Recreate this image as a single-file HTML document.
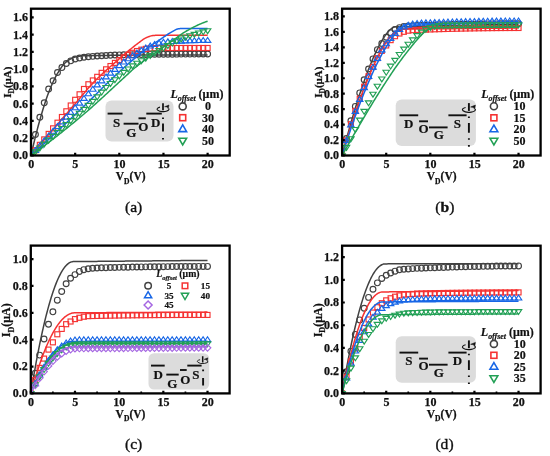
<!DOCTYPE html>
<html><head><meta charset="utf-8"><title>I-V characteristics</title>
<style>html,body{margin:0;padding:0;background:#fff}svg{display:block}.tk{font-family:"Liberation Serif", "DejaVu Serif", serif;font-weight:bold;font-size:12px;fill:#111;stroke:#111;stroke-width:0.25px}.lg{font-family:"Liberation Serif", "DejaVu Serif", serif;font-weight:bold;fill:#111;stroke:#111;stroke-width:0.2px}.cap{font-family:"Liberation Serif", "DejaVu Serif", serif;font-size:15.6px;fill:#111;stroke:#111;stroke-width:0.35px}.in{font-family:"Liberation Serif", "DejaVu Serif", serif;font-weight:bold;fill:#111;stroke:#111;stroke-width:0.2px}</style></head><body>
<svg width="550" height="456" viewBox="0 0 550 456">
<rect width="550" height="456" fill="#fff"/>
<defs>
<clipPath id="ca"><rect x="31" y="8.7" width="198.7" height="146.8"/></clipPath>
<clipPath id="cb"><rect x="342.1" y="8.7" width="198.5" height="146.8"/></clipPath>
<clipPath id="cc"><rect x="30.8" y="245.6" width="198.8" height="147.8"/></clipPath>
<clipPath id="cd"><rect x="342.1" y="245.7" width="198.5" height="147.7"/></clipPath>
</defs>
<rect x="105.5" y="100.5" width="68" height="41" rx="6" fill="#dcdcdc"/>
<path d="M107.6 113.6 H122.5" stroke="#111" stroke-width="1.9" fill="none"/>
<text x="116.7" y="127" text-anchor="middle" font-size="13" class="in">S</text>
<path d="M123.6 123.7 H138.5" stroke="#111" stroke-width="1.9" fill="none"/>
<text x="131.3" y="136.6" text-anchor="middle" font-size="13" class="in">G</text>
<path d="M138.5 118.3 H145.8" stroke="#111" stroke-width="1.9" fill="none"/>
<text x="143.3" y="131.4" text-anchor="middle" font-size="13" class="in">O</text>
<path d="M146.3 113.6 H161.8" stroke="#111" stroke-width="1.9" fill="none"/>
<text x="155.6" y="127" text-anchor="middle" font-size="13" class="in">D</text>
<path d="M163 117.4 V119 M163 123.4 V131.4 M163 138 V139.6" stroke="#111" stroke-width="1.9" fill="none"/>
<g transform="translate(163 109.2) scale(0.92)"><path d="M-3.3 -2.25 A6.5 2.6 0 1 0 6.3 -0.7" fill="none" stroke="#111" stroke-width="1.15"/><path d="M0 -6.6 V1.2" fill="none" stroke="#111" stroke-width="1.9"/><path d="M1.7 -2.7 L6.5 -4.6 L5.7 -0.5 L4.6 -2.3 Z" fill="#111" stroke="#111" stroke-width="0.5" stroke-linejoin="round"/></g>
<rect x="395.7" y="99.4" width="80.2" height="46.6" rx="6" fill="#dcdcdc"/>
<path d="M399.5 115.3 H418.2" stroke="#111" stroke-width="1.9" fill="none"/>
<text x="408.8" y="127.9" text-anchor="middle" font-size="13" class="in">D</text>
<path d="M419.1 121.3 H428" stroke="#111" stroke-width="1.9" fill="none"/>
<text x="423.6" y="132.8" text-anchor="middle" font-size="13" class="in">O</text>
<path d="M429 127.4 H447.6" stroke="#111" stroke-width="1.9" fill="none"/>
<text x="438.8" y="139.3" text-anchor="middle" font-size="13" class="in">G</text>
<path d="M448.4 115.3 H466.6" stroke="#111" stroke-width="1.9" fill="none"/>
<text x="457.4" y="127.9" text-anchor="middle" font-size="13" class="in">S</text>
<path d="M468.9 116.4 V118 M468.9 123 V132.8 M468.9 138.2 V139.8 M468.9 145.1 V146.7" stroke="#111" stroke-width="1.9" fill="none"/>
<g transform="translate(468.9 109.7) scale(1.0)"><path d="M-3.3 -2.25 A6.5 2.6 0 1 0 6.3 -0.7" fill="none" stroke="#111" stroke-width="1.15"/><path d="M0 -6.6 V1.2" fill="none" stroke="#111" stroke-width="1.9"/><path d="M1.7 -2.7 L6.5 -4.6 L5.7 -0.5 L4.6 -2.3 Z" fill="#111" stroke="#111" stroke-width="0.5" stroke-linejoin="round"/></g>
<rect x="148.5" y="353.2" width="60.7" height="36.3" rx="5.5" fill="#dcdcdc"/>
<path d="M151 365.6 H164.7" stroke="#111" stroke-width="1.9" fill="none"/>
<text x="158.3" y="379" text-anchor="middle" font-size="13" class="in">D</text>
<path d="M166.3 374.6 H178.7" stroke="#111" stroke-width="1.9" fill="none"/>
<text x="172.4" y="388.4" text-anchor="middle" font-size="13" class="in">G</text>
<path d="M180 370 H186.7" stroke="#111" stroke-width="1.9" fill="none"/>
<text x="185.2" y="383.6" text-anchor="middle" font-size="13" class="in">O</text>
<path d="M187.3 365.6 H201.6" stroke="#111" stroke-width="1.9" fill="none"/>
<text x="195.9" y="379" text-anchor="middle" font-size="13" class="in">S</text>
<path d="M203.1 369.6 V371.2 M203.1 378 V385.6" stroke="#111" stroke-width="1.9" fill="none"/>
<g transform="translate(202.7 361.5) scale(0.8)"><path d="M-3.3 -2.25 A6.5 2.6 0 1 0 6.3 -0.7" fill="none" stroke="#111" stroke-width="1.15"/><path d="M0 -6.6 V1.2" fill="none" stroke="#111" stroke-width="1.9"/><path d="M1.7 -2.7 L6.5 -4.6 L5.7 -0.5 L4.6 -2.3 Z" fill="#111" stroke="#111" stroke-width="0.5" stroke-linejoin="round"/></g>
<rect x="395.7" y="336.2" width="80.2" height="46.5" rx="6" fill="#dcdcdc"/>
<path d="M399.5 352.6 H418.2" stroke="#111" stroke-width="1.9" fill="none"/>
<text x="408.8" y="365.2" text-anchor="middle" font-size="13" class="in">S</text>
<path d="M419.1 358.6 H428" stroke="#111" stroke-width="1.9" fill="none"/>
<text x="423.6" y="370.1" text-anchor="middle" font-size="13" class="in">O</text>
<path d="M429 364.7 H447.6" stroke="#111" stroke-width="1.9" fill="none"/>
<text x="438.8" y="376.6" text-anchor="middle" font-size="13" class="in">G</text>
<path d="M448.4 352.6 H466.6" stroke="#111" stroke-width="1.9" fill="none"/>
<text x="457.4" y="365.2" text-anchor="middle" font-size="13" class="in">D</text>
<path d="M468.9 353.7 V355.3 M468.9 360.3 V370.1 M468.9 375.5 V377.1 M468.9 382.4 V384" stroke="#111" stroke-width="1.9" fill="none"/>
<g transform="translate(468.9 347) scale(1.0)"><path d="M-3.3 -2.25 A6.5 2.6 0 1 0 6.3 -0.7" fill="none" stroke="#111" stroke-width="1.15"/><path d="M0 -6.6 V1.2" fill="none" stroke="#111" stroke-width="1.9"/><path d="M1.7 -2.7 L6.5 -4.6 L5.7 -0.5 L4.6 -2.3 Z" fill="#111" stroke="#111" stroke-width="0.5" stroke-linejoin="round"/></g>
<g clip-path="url(#ca)">
<circle cx="31" cy="155.5" r="2.9" fill="none" stroke="#424242" stroke-width="1.15"/>
<circle cx="35.42" cy="134.52" r="2.9" fill="none" stroke="#424242" stroke-width="1.15"/>
<circle cx="39.83" cy="117.25" r="2.9" fill="none" stroke="#424242" stroke-width="1.15"/>
<circle cx="44.25" cy="102.82" r="2.9" fill="none" stroke="#424242" stroke-width="1.15"/>
<circle cx="48.66" cy="89.01" r="2.9" fill="none" stroke="#424242" stroke-width="1.15"/>
<circle cx="53.08" cy="80.8" r="2.9" fill="none" stroke="#424242" stroke-width="1.15"/>
<circle cx="57.49" cy="72.51" r="2.9" fill="none" stroke="#424242" stroke-width="1.15"/>
<circle cx="61.91" cy="67.59" r="2.9" fill="none" stroke="#424242" stroke-width="1.15"/>
<circle cx="66.32" cy="63.45" r="2.9" fill="none" stroke="#424242" stroke-width="1.15"/>
<circle cx="70.74" cy="60.86" r="2.9" fill="none" stroke="#424242" stroke-width="1.15"/>
<circle cx="75.16" cy="59.04" r="2.9" fill="none" stroke="#424242" stroke-width="1.15"/>
<circle cx="79.57" cy="57.96" r="2.9" fill="none" stroke="#424242" stroke-width="1.15"/>
<circle cx="83.99" cy="57.23" r="2.9" fill="none" stroke="#424242" stroke-width="1.15"/>
<circle cx="88.4" cy="56.74" r="2.9" fill="none" stroke="#424242" stroke-width="1.15"/>
<circle cx="92.82" cy="56.36" r="2.9" fill="none" stroke="#424242" stroke-width="1.15"/>
<circle cx="97.23" cy="56.04" r="2.9" fill="none" stroke="#424242" stroke-width="1.15"/>
<circle cx="101.65" cy="55.76" r="2.9" fill="none" stroke="#424242" stroke-width="1.15"/>
<circle cx="106.06" cy="55.49" r="2.9" fill="none" stroke="#424242" stroke-width="1.15"/>
<circle cx="110.48" cy="55.24" r="2.9" fill="none" stroke="#424242" stroke-width="1.15"/>
<circle cx="114.9" cy="55.03" r="2.9" fill="none" stroke="#424242" stroke-width="1.15"/>
<circle cx="119.31" cy="54.9" r="2.9" fill="none" stroke="#424242" stroke-width="1.15"/>
<circle cx="123.73" cy="54.82" r="2.9" fill="none" stroke="#424242" stroke-width="1.15"/>
<circle cx="128.14" cy="54.74" r="2.9" fill="none" stroke="#424242" stroke-width="1.15"/>
<circle cx="132.56" cy="54.66" r="2.9" fill="none" stroke="#424242" stroke-width="1.15"/>
<circle cx="136.97" cy="54.59" r="2.9" fill="none" stroke="#424242" stroke-width="1.15"/>
<circle cx="141.39" cy="54.53" r="2.9" fill="none" stroke="#424242" stroke-width="1.15"/>
<circle cx="145.8" cy="54.46" r="2.9" fill="none" stroke="#424242" stroke-width="1.15"/>
<circle cx="150.22" cy="54.41" r="2.9" fill="none" stroke="#424242" stroke-width="1.15"/>
<circle cx="154.64" cy="54.35" r="2.9" fill="none" stroke="#424242" stroke-width="1.15"/>
<circle cx="159.05" cy="54.3" r="2.9" fill="none" stroke="#424242" stroke-width="1.15"/>
<circle cx="163.47" cy="54.26" r="2.9" fill="none" stroke="#424242" stroke-width="1.15"/>
<circle cx="167.88" cy="54.21" r="2.9" fill="none" stroke="#424242" stroke-width="1.15"/>
<circle cx="172.3" cy="54.18" r="2.9" fill="none" stroke="#424242" stroke-width="1.15"/>
<circle cx="176.71" cy="54.14" r="2.9" fill="none" stroke="#424242" stroke-width="1.15"/>
<circle cx="181.13" cy="54.12" r="2.9" fill="none" stroke="#424242" stroke-width="1.15"/>
<circle cx="185.54" cy="54.09" r="2.9" fill="none" stroke="#424242" stroke-width="1.15"/>
<circle cx="189.96" cy="54.07" r="2.9" fill="none" stroke="#424242" stroke-width="1.15"/>
<circle cx="194.38" cy="54.06" r="2.9" fill="none" stroke="#424242" stroke-width="1.15"/>
<circle cx="198.79" cy="54.04" r="2.9" fill="none" stroke="#424242" stroke-width="1.15"/>
<circle cx="203.21" cy="54.04" r="2.9" fill="none" stroke="#424242" stroke-width="1.15"/>
<circle cx="207.62" cy="54.04" r="2.9" fill="none" stroke="#424242" stroke-width="1.15"/>
<path d="M31 155.5 L31.88 151.61 L32.77 147.78 L33.65 144.03 L34.53 140.36 L35.42 136.77 L36.3 133.26 L37.18 129.83 L38.06 126.49 L38.95 123.25 L39.83 120.1 L40.71 117.01 L41.6 113.97 L42.48 110.98 L43.36 108.06 L44.25 105.21 L45.13 102.45 L46.01 99.79 L46.9 97.22 L47.78 94.78 L48.66 92.46 L49.55 90.24 L50.43 88.07 L51.31 85.96 L52.19 83.92 L53.08 81.96 L53.96 80.07 L54.84 78.27 L55.73 76.57 L56.61 74.96 L57.49 73.46 L58.38 72.03 L59.26 70.62 L60.14 69.25 L61.03 67.93 L61.91 66.67 L62.79 65.5 L63.68 64.41 L64.56 63.42 L65.44 62.55 L66.32 61.81 L67.21 61.15 L68.09 60.51 L68.97 59.92 L69.86 59.36 L70.74 58.84 L71.62 58.37 L72.51 57.96 L73.39 57.6 L74.27 57.29 L75.16 57.06 L76.04 56.86 L76.92 56.67 L77.8 56.49 L78.69 56.32 L79.57 56.18 L80.45 56.05 L81.34 55.94 L82.22 55.85 L83.1 55.79 L83.99 55.76 L84.87 55.75 L85.75 55.73 L86.64 55.72 L87.52 55.7 L88.4 55.68 L89.29 55.67 L90.17 55.66 L91.05 55.64 L91.93 55.63 L92.82 55.61 L93.7 55.6 L94.58 55.58 L95.47 55.57 L96.35 55.56 L97.23 55.54 L98.12 55.53 L99 55.52 L99.88 55.5 L100.77 55.49 L101.65 55.48 L102.53 55.47 L103.42 55.46 L104.3 55.44 L105.18 55.43 L106.06 55.42 L106.95 55.41 L107.83 55.4 L108.71 55.39 L109.6 55.38 L110.48 55.36 L111.36 55.35 L112.25 55.34 L113.13 55.33 L114.01 55.32 L114.9 55.31 L115.78 55.3 L116.66 55.29 L117.54 55.28 L118.43 55.27 L119.31 55.27 L120.19 55.26 L121.08 55.25 L121.96 55.24 L122.84 55.23 L123.73 55.22 L124.61 55.21 L125.49 55.2 L126.38 55.2 L127.26 55.19 L128.14 55.18 L129.03 55.17 L129.91 55.17 L130.79 55.16 L131.67 55.15 L132.56 55.14 L133.44 55.14 L134.32 55.13 L135.21 55.12 L136.09 55.12 L136.97 55.11 L137.86 55.1 L138.74 55.1 L139.62 55.09 L140.51 55.08 L141.39 55.08 L142.27 55.07 L143.16 55.07 L144.04 55.06 L144.92 55.06 L145.8 55.05 L146.69 55.05 L147.57 55.04 L148.45 55.04 L149.34 55.03 L150.22 55.03 L151.1 55.02 L151.99 55.02 L152.87 55.01 L153.75 55.01 L154.64 55 L155.52 55 L156.4 55 L157.28 54.99 L158.17 54.99 L159.05 54.98 L159.93 54.98 L160.82 54.98 L161.7 54.97 L162.58 54.97 L163.47 54.97 L164.35 54.96 L165.23 54.96 L166.12 54.96 L167 54.96 L167.88 54.95 L168.77 54.95 L169.65 54.95 L170.53 54.94 L171.41 54.94 L172.3 54.94 L173.18 54.94 L174.06 54.94 L174.95 54.93 L175.83 54.93 L176.71 54.93 L177.6 54.93 L178.48 54.93 L179.36 54.92 L180.25 54.92 L181.13 54.92 L182.01 54.92 L182.9 54.92 L183.78 54.92 L184.66 54.91 L185.54 54.91 L186.43 54.91 L187.31 54.91 L188.19 54.91 L189.08 54.91 L189.96 54.91 L190.84 54.91 L191.73 54.91 L192.61 54.9 L193.49 54.9 L194.38 54.9 L195.26 54.9 L196.14 54.9 L197.02 54.9 L197.91 54.9 L198.79 54.9 L199.67 54.9 L200.56 54.9 L201.44 54.9 L202.32 54.9 L203.21 54.9 L204.09 54.9 L204.97 54.9 L205.86 54.9 L206.74 54.9 L207.62 54.9" fill="none" stroke="#424242" stroke-width="1.5" stroke-linejoin="round"/>
</g>
<g clip-path="url(#ca)">
<rect x="28.5" y="153" width="5" height="5" fill="none" stroke="#f53232" stroke-width="1.15"/>
<rect x="32.92" y="147.7" width="5" height="5" fill="none" stroke="#f53232" stroke-width="1.15"/>
<rect x="37.33" y="142.33" width="5" height="5" fill="none" stroke="#f53232" stroke-width="1.15"/>
<rect x="41.75" y="136.9" width="5" height="5" fill="none" stroke="#f53232" stroke-width="1.15"/>
<rect x="46.16" y="131.41" width="5" height="5" fill="none" stroke="#f53232" stroke-width="1.15"/>
<rect x="50.58" y="125.84" width="5" height="5" fill="none" stroke="#f53232" stroke-width="1.15"/>
<rect x="54.99" y="120.19" width="5" height="5" fill="none" stroke="#f53232" stroke-width="1.15"/>
<rect x="59.41" y="114.5" width="5" height="5" fill="none" stroke="#f53232" stroke-width="1.15"/>
<rect x="63.82" y="108.79" width="5" height="5" fill="none" stroke="#f53232" stroke-width="1.15"/>
<rect x="68.24" y="102.99" width="5" height="5" fill="none" stroke="#f53232" stroke-width="1.15"/>
<rect x="72.66" y="97.3" width="5" height="5" fill="none" stroke="#f53232" stroke-width="1.15"/>
<rect x="77.07" y="91.79" width="5" height="5" fill="none" stroke="#f53232" stroke-width="1.15"/>
<rect x="81.49" y="86.48" width="5" height="5" fill="none" stroke="#f53232" stroke-width="1.15"/>
<rect x="85.9" y="81.76" width="5" height="5" fill="none" stroke="#f53232" stroke-width="1.15"/>
<rect x="90.32" y="77.94" width="5" height="5" fill="none" stroke="#f53232" stroke-width="1.15"/>
<rect x="94.73" y="74.33" width="5" height="5" fill="none" stroke="#f53232" stroke-width="1.15"/>
<rect x="99.15" y="70.36" width="5" height="5" fill="none" stroke="#f53232" stroke-width="1.15"/>
<rect x="103.56" y="66.83" width="5" height="5" fill="none" stroke="#f53232" stroke-width="1.15"/>
<rect x="107.98" y="63.54" width="5" height="5" fill="none" stroke="#f53232" stroke-width="1.15"/>
<rect x="112.4" y="60.4" width="5" height="5" fill="none" stroke="#f53232" stroke-width="1.15"/>
<rect x="116.81" y="57.49" width="5" height="5" fill="none" stroke="#f53232" stroke-width="1.15"/>
<rect x="121.23" y="54.86" width="5" height="5" fill="none" stroke="#f53232" stroke-width="1.15"/>
<rect x="125.64" y="52.49" width="5" height="5" fill="none" stroke="#f53232" stroke-width="1.15"/>
<rect x="130.06" y="50.29" width="5" height="5" fill="none" stroke="#f53232" stroke-width="1.15"/>
<rect x="134.47" y="48.51" width="5" height="5" fill="none" stroke="#f53232" stroke-width="1.15"/>
<rect x="138.89" y="47.2" width="5" height="5" fill="none" stroke="#f53232" stroke-width="1.15"/>
<rect x="143.3" y="46.35" width="5" height="5" fill="none" stroke="#f53232" stroke-width="1.15"/>
<rect x="147.72" y="45.92" width="5" height="5" fill="none" stroke="#f53232" stroke-width="1.15"/>
<rect x="152.14" y="45.61" width="5" height="5" fill="none" stroke="#f53232" stroke-width="1.15"/>
<rect x="156.55" y="45.49" width="5" height="5" fill="none" stroke="#f53232" stroke-width="1.15"/>
<rect x="160.97" y="45.49" width="5" height="5" fill="none" stroke="#f53232" stroke-width="1.15"/>
<rect x="165.38" y="45.49" width="5" height="5" fill="none" stroke="#f53232" stroke-width="1.15"/>
<rect x="169.8" y="45.49" width="5" height="5" fill="none" stroke="#f53232" stroke-width="1.15"/>
<rect x="174.21" y="45.49" width="5" height="5" fill="none" stroke="#f53232" stroke-width="1.15"/>
<rect x="178.63" y="45.49" width="5" height="5" fill="none" stroke="#f53232" stroke-width="1.15"/>
<rect x="183.04" y="45.49" width="5" height="5" fill="none" stroke="#f53232" stroke-width="1.15"/>
<rect x="187.46" y="45.49" width="5" height="5" fill="none" stroke="#f53232" stroke-width="1.15"/>
<rect x="191.88" y="45.49" width="5" height="5" fill="none" stroke="#f53232" stroke-width="1.15"/>
<rect x="196.29" y="45.49" width="5" height="5" fill="none" stroke="#f53232" stroke-width="1.15"/>
<rect x="200.71" y="45.49" width="5" height="5" fill="none" stroke="#f53232" stroke-width="1.15"/>
<rect x="205.12" y="45.49" width="5" height="5" fill="none" stroke="#f53232" stroke-width="1.15"/>
<path d="M31 155.5 L31.88 154.45 L32.77 153.4 L33.65 152.35 L34.53 151.3 L35.42 150.25 L36.3 149.2 L37.18 148.15 L38.06 147.11 L38.95 146.06 L39.83 145.02 L40.71 143.97 L41.6 142.93 L42.48 141.88 L43.36 140.84 L44.25 139.8 L45.13 138.76 L46.01 137.72 L46.9 136.68 L47.78 135.64 L48.66 134.6 L49.55 133.56 L50.43 132.52 L51.31 131.49 L52.19 130.45 L53.08 129.41 L53.96 128.38 L54.84 127.34 L55.73 126.31 L56.61 125.28 L57.49 124.24 L58.38 123.21 L59.26 122.18 L60.14 121.15 L61.03 120.12 L61.91 119.09 L62.79 118.06 L63.68 117.03 L64.56 116 L65.44 114.97 L66.32 113.94 L67.21 112.91 L68.09 111.89 L68.97 110.86 L69.86 109.83 L70.74 108.81 L71.62 107.78 L72.51 106.76 L73.39 105.74 L74.27 104.71 L75.16 103.69 L76.04 102.66 L76.92 101.63 L77.8 100.59 L78.69 99.54 L79.57 98.49 L80.45 97.44 L81.34 96.39 L82.22 95.34 L83.1 94.29 L83.99 93.25 L84.87 92.2 L85.75 91.17 L86.64 90.13 L87.52 89.11 L88.4 88.1 L89.29 87.09 L90.17 86.1 L91.05 85.12 L91.93 84.15 L92.82 83.2 L93.7 82.26 L94.58 81.34 L95.47 80.44 L96.35 79.55 L97.23 78.68 L98.12 77.81 L99 76.96 L99.88 76.11 L100.77 75.27 L101.65 74.44 L102.53 73.62 L103.42 72.81 L104.3 72 L105.18 71.2 L106.06 70.41 L106.95 69.62 L107.83 68.83 L108.71 68.05 L109.6 67.27 L110.48 66.5 L111.36 65.72 L112.25 64.95 L113.13 64.18 L114.01 63.41 L114.9 62.65 L115.78 61.88 L116.66 61.11 L117.54 60.33 L118.43 59.56 L119.31 58.78 L120.19 58.01 L121.08 57.23 L121.96 56.46 L122.84 55.69 L123.73 54.92 L124.61 54.15 L125.49 53.39 L126.38 52.64 L127.26 51.89 L128.14 51.15 L129.03 50.41 L129.91 49.69 L130.79 48.96 L131.67 48.24 L132.56 47.53 L133.44 46.82 L134.32 46.12 L135.21 45.44 L136.09 44.76 L136.97 44.1 L137.86 43.44 L138.74 42.77 L139.62 42.08 L140.51 41.4 L141.39 40.73 L142.27 40.08 L143.16 39.47 L144.04 38.9 L144.92 38.37 L145.8 37.91 L146.69 37.51 L147.57 37.14 L148.45 36.77 L149.34 36.43 L150.22 36.13 L151.1 35.88 L151.99 35.68 L152.87 35.56 L153.75 35.48 L154.64 35.4 L155.52 35.35 L156.4 35.31 L157.28 35.3 L158.17 35.3 L159.05 35.3 L159.93 35.3 L160.82 35.3 L161.7 35.3 L162.58 35.3 L163.47 35.3 L164.35 35.3 L165.23 35.3 L166.12 35.3 L167 35.3 L167.88 35.3 L168.77 35.3 L169.65 35.3 L170.53 35.3 L171.41 35.3 L172.3 35.3 L173.18 35.3 L174.06 35.3 L174.95 35.3 L175.83 35.3 L176.71 35.3 L177.6 35.3 L178.48 35.3 L179.36 35.3 L180.25 35.3 L181.13 35.3 L182.01 35.3 L182.9 35.3 L183.78 35.3 L184.66 35.3 L185.54 35.3 L186.43 35.3 L187.31 35.3 L188.19 35.3 L189.08 35.3 L189.96 35.3 L190.84 35.3 L191.73 35.3 L192.61 35.3 L193.49 35.3 L194.38 35.3 L195.26 35.3 L196.14 35.3 L197.02 35.3 L197.91 35.3 L198.79 35.3 L199.67 35.3 L200.56 35.3 L201.44 35.3 L202.32 35.3 L203.21 35.3 L204.09 35.3 L204.97 35.3 L205.86 35.3 L206.74 35.3 L207.62 35.3" fill="none" stroke="#f53232" stroke-width="1.5" stroke-linejoin="round"/>
</g>
<g clip-path="url(#ca)">
<path d="M27.8 157.26 L34.2 157.26 L31 152.36 Z" fill="none" stroke="#1766e6" stroke-width="1.15" stroke-linejoin="miter"/>
<path d="M32.22 152.41 L38.62 152.41 L35.42 147.51 Z" fill="none" stroke="#1766e6" stroke-width="1.15" stroke-linejoin="miter"/>
<path d="M36.63 147.59 L43.03 147.59 L39.83 142.69 Z" fill="none" stroke="#1766e6" stroke-width="1.15" stroke-linejoin="miter"/>
<path d="M41.05 142.79 L47.45 142.79 L44.25 137.89 Z" fill="none" stroke="#1766e6" stroke-width="1.15" stroke-linejoin="miter"/>
<path d="M45.46 138.01 L51.86 138.01 L48.66 133.11 Z" fill="none" stroke="#1766e6" stroke-width="1.15" stroke-linejoin="miter"/>
<path d="M49.88 133.25 L56.28 133.25 L53.08 128.35 Z" fill="none" stroke="#1766e6" stroke-width="1.15" stroke-linejoin="miter"/>
<path d="M54.29 128.52 L60.69 128.52 L57.49 123.62 Z" fill="none" stroke="#1766e6" stroke-width="1.15" stroke-linejoin="miter"/>
<path d="M58.71 123.8 L65.11 123.8 L61.91 118.9 Z" fill="none" stroke="#1766e6" stroke-width="1.15" stroke-linejoin="miter"/>
<path d="M63.12 119.11 L69.52 119.11 L66.32 114.21 Z" fill="none" stroke="#1766e6" stroke-width="1.15" stroke-linejoin="miter"/>
<path d="M67.54 114.43 L73.94 114.43 L70.74 109.53 Z" fill="none" stroke="#1766e6" stroke-width="1.15" stroke-linejoin="miter"/>
<path d="M71.96 109.77 L78.36 109.77 L75.16 104.87 Z" fill="none" stroke="#1766e6" stroke-width="1.15" stroke-linejoin="miter"/>
<path d="M76.37 105.08 L82.77 105.08 L79.57 100.18 Z" fill="none" stroke="#1766e6" stroke-width="1.15" stroke-linejoin="miter"/>
<path d="M80.79 100.38 L87.19 100.38 L83.99 95.48 Z" fill="none" stroke="#1766e6" stroke-width="1.15" stroke-linejoin="miter"/>
<path d="M85.2 95.73 L91.6 95.73 L88.4 90.83 Z" fill="none" stroke="#1766e6" stroke-width="1.15" stroke-linejoin="miter"/>
<path d="M89.62 91.2 L96.02 91.2 L92.82 86.3 Z" fill="none" stroke="#1766e6" stroke-width="1.15" stroke-linejoin="miter"/>
<path d="M94.03 86.89 L100.43 86.89 L97.23 81.99 Z" fill="none" stroke="#1766e6" stroke-width="1.15" stroke-linejoin="miter"/>
<path d="M98.45 82.81 L104.85 82.81 L101.65 77.91 Z" fill="none" stroke="#1766e6" stroke-width="1.15" stroke-linejoin="miter"/>
<path d="M102.86 78.9 L109.26 78.9 L106.06 74 Z" fill="none" stroke="#1766e6" stroke-width="1.15" stroke-linejoin="miter"/>
<path d="M107.28 75.1 L113.68 75.1 L110.48 70.2 Z" fill="none" stroke="#1766e6" stroke-width="1.15" stroke-linejoin="miter"/>
<path d="M111.7 71.34 L118.1 71.34 L114.9 66.44 Z" fill="none" stroke="#1766e6" stroke-width="1.15" stroke-linejoin="miter"/>
<path d="M116.11 67.57 L122.51 67.57 L119.31 62.67 Z" fill="none" stroke="#1766e6" stroke-width="1.15" stroke-linejoin="miter"/>
<path d="M120.53 64 L126.93 64 L123.73 59.1 Z" fill="none" stroke="#1766e6" stroke-width="1.15" stroke-linejoin="miter"/>
<path d="M124.94 60.75 L131.34 60.75 L128.14 55.85 Z" fill="none" stroke="#1766e6" stroke-width="1.15" stroke-linejoin="miter"/>
<path d="M129.36 57.71 L135.76 57.71 L132.56 52.81 Z" fill="none" stroke="#1766e6" stroke-width="1.15" stroke-linejoin="miter"/>
<path d="M133.77 54.94 L140.17 54.94 L136.97 50.04 Z" fill="none" stroke="#1766e6" stroke-width="1.15" stroke-linejoin="miter"/>
<path d="M138.19 52.35 L144.59 52.35 L141.39 47.45 Z" fill="none" stroke="#1766e6" stroke-width="1.15" stroke-linejoin="miter"/>
<path d="M142.6 49.97 L149 49.97 L145.8 45.07 Z" fill="none" stroke="#1766e6" stroke-width="1.15" stroke-linejoin="miter"/>
<path d="M147.02 48.03 L153.42 48.03 L150.22 43.13 Z" fill="none" stroke="#1766e6" stroke-width="1.15" stroke-linejoin="miter"/>
<path d="M151.44 46.4 L157.84 46.4 L154.64 41.5 Z" fill="none" stroke="#1766e6" stroke-width="1.15" stroke-linejoin="miter"/>
<path d="M155.85 45.01 L162.25 45.01 L159.05 40.11 Z" fill="none" stroke="#1766e6" stroke-width="1.15" stroke-linejoin="miter"/>
<path d="M160.27 44.14 L166.67 44.14 L163.47 39.24 Z" fill="none" stroke="#1766e6" stroke-width="1.15" stroke-linejoin="miter"/>
<path d="M164.68 43.72 L171.08 43.72 L167.88 38.82 Z" fill="none" stroke="#1766e6" stroke-width="1.15" stroke-linejoin="miter"/>
<path d="M169.1 43.45 L175.5 43.45 L172.3 38.55 Z" fill="none" stroke="#1766e6" stroke-width="1.15" stroke-linejoin="miter"/>
<path d="M173.51 43.25 L179.91 43.25 L176.71 38.35 Z" fill="none" stroke="#1766e6" stroke-width="1.15" stroke-linejoin="miter"/>
<path d="M177.93 43.06 L184.33 43.06 L181.13 38.16 Z" fill="none" stroke="#1766e6" stroke-width="1.15" stroke-linejoin="miter"/>
<path d="M182.34 42.88 L188.74 42.88 L185.54 37.98 Z" fill="none" stroke="#1766e6" stroke-width="1.15" stroke-linejoin="miter"/>
<path d="M186.76 42.73 L193.16 42.73 L189.96 37.83 Z" fill="none" stroke="#1766e6" stroke-width="1.15" stroke-linejoin="miter"/>
<path d="M191.18 42.6 L197.58 42.6 L194.38 37.7 Z" fill="none" stroke="#1766e6" stroke-width="1.15" stroke-linejoin="miter"/>
<path d="M195.59 42.5 L201.99 42.5 L198.79 37.6 Z" fill="none" stroke="#1766e6" stroke-width="1.15" stroke-linejoin="miter"/>
<path d="M200.01 42.44 L206.41 42.44 L203.21 37.54 Z" fill="none" stroke="#1766e6" stroke-width="1.15" stroke-linejoin="miter"/>
<path d="M204.42 42.41 L210.82 42.41 L207.62 37.51 Z" fill="none" stroke="#1766e6" stroke-width="1.15" stroke-linejoin="miter"/>
<path d="M31 155.5 L31.88 154.7 L32.77 153.9 L33.65 153.1 L34.53 152.3 L35.42 151.49 L36.3 150.69 L37.18 149.88 L38.06 149.08 L38.95 148.27 L39.83 147.46 L40.71 146.66 L41.6 145.85 L42.48 145.04 L43.36 144.23 L44.25 143.41 L45.13 142.6 L46.01 141.79 L46.9 140.98 L47.78 140.16 L48.66 139.35 L49.55 138.53 L50.43 137.71 L51.31 136.9 L52.19 136.08 L53.08 135.26 L53.96 134.44 L54.84 133.62 L55.73 132.8 L56.61 131.97 L57.49 131.15 L58.38 130.33 L59.26 129.5 L60.14 128.68 L61.03 127.85 L61.91 127.03 L62.79 126.2 L63.68 125.37 L64.56 124.54 L65.44 123.72 L66.32 122.89 L67.21 122.06 L68.09 121.22 L68.97 120.39 L69.86 119.56 L70.74 118.73 L71.62 117.89 L72.51 117.06 L73.39 116.23 L74.27 115.39 L75.16 114.55 L76.04 113.72 L76.92 112.88 L77.8 112.04 L78.69 111.2 L79.57 110.36 L80.45 109.52 L81.34 108.68 L82.22 107.84 L83.1 107 L83.99 106.15 L84.87 105.29 L85.75 104.44 L86.64 103.58 L87.52 102.71 L88.4 101.84 L89.29 100.98 L90.17 100.1 L91.05 99.23 L91.93 98.35 L92.82 97.48 L93.7 96.6 L94.58 95.72 L95.47 94.84 L96.35 93.96 L97.23 93.08 L98.12 92.2 L99 91.32 L99.88 90.44 L100.77 89.56 L101.65 88.68 L102.53 87.81 L103.42 86.93 L104.3 86.06 L105.18 85.19 L106.06 84.33 L106.95 83.47 L107.83 82.61 L108.71 81.75 L109.6 80.9 L110.48 80.05 L111.36 79.21 L112.25 78.37 L113.13 77.53 L114.01 76.7 L114.9 75.88 L115.78 75.06 L116.66 74.25 L117.54 73.45 L118.43 72.65 L119.31 71.85 L120.19 71.05 L121.08 70.25 L121.96 69.45 L122.84 68.66 L123.73 67.87 L124.61 67.07 L125.49 66.29 L126.38 65.5 L127.26 64.72 L128.14 63.93 L129.03 63.16 L129.91 62.38 L130.79 61.61 L131.67 60.85 L132.56 60.08 L133.44 59.33 L134.32 58.57 L135.21 57.82 L136.09 57.08 L136.97 56.34 L137.86 55.61 L138.74 54.88 L139.62 54.16 L140.51 53.45 L141.39 52.74 L142.27 52.04 L143.16 51.35 L144.04 50.67 L144.92 49.99 L145.8 49.32 L146.69 48.66 L147.57 48.01 L148.45 47.37 L149.34 46.74 L150.22 46.12 L151.1 45.52 L151.99 44.91 L152.87 44.32 L153.75 43.73 L154.64 43.14 L155.52 42.56 L156.4 41.97 L157.28 41.39 L158.17 40.81 L159.05 40.23 L159.93 39.64 L160.82 39.04 L161.7 38.44 L162.58 37.84 L163.47 37.23 L164.35 36.62 L165.23 36.02 L166.12 35.42 L167 34.83 L167.88 34.25 L168.77 33.68 L169.65 33.12 L170.53 32.59 L171.41 32.07 L172.3 31.57 L173.18 31.08 L174.06 30.57 L174.95 30.06 L175.83 29.61 L176.71 29.24 L177.6 28.99 L178.48 28.83 L179.36 28.69 L180.25 28.57 L181.13 28.47 L182.01 28.41 L182.9 28.39 L183.78 28.39 L184.66 28.39 L185.54 28.39 L186.43 28.39 L187.31 28.39 L188.19 28.39 L189.08 28.39 L189.96 28.39 L190.84 28.39 L191.73 28.39 L192.61 28.39 L193.49 28.39 L194.38 28.39 L195.26 28.39 L196.14 28.39 L197.02 28.39 L197.91 28.39 L198.79 28.39 L199.67 28.39 L200.56 28.39 L201.44 28.39 L202.32 28.39 L203.21 28.39 L204.09 28.39 L204.97 28.39 L205.86 28.39 L206.74 28.39 L207.62 28.39" fill="none" stroke="#1766e6" stroke-width="1.5" stroke-linejoin="round"/>
</g>
<g clip-path="url(#ca)">
<path d="M27.8 153.74 L34.2 153.74 L31 158.64 Z" fill="none" stroke="#22a055" stroke-width="1.15" stroke-linejoin="miter"/>
<path d="M32.22 149.85 L38.62 149.85 L35.42 154.75 Z" fill="none" stroke="#22a055" stroke-width="1.15" stroke-linejoin="miter"/>
<path d="M36.63 145.96 L43.03 145.96 L39.83 150.86 Z" fill="none" stroke="#22a055" stroke-width="1.15" stroke-linejoin="miter"/>
<path d="M41.05 142.08 L47.45 142.08 L44.25 146.98 Z" fill="none" stroke="#22a055" stroke-width="1.15" stroke-linejoin="miter"/>
<path d="M45.46 138.19 L51.86 138.19 L48.66 143.09 Z" fill="none" stroke="#22a055" stroke-width="1.15" stroke-linejoin="miter"/>
<path d="M49.88 134.31 L56.28 134.31 L53.08 139.21 Z" fill="none" stroke="#22a055" stroke-width="1.15" stroke-linejoin="miter"/>
<path d="M54.29 130.4 L60.69 130.4 L57.49 135.3 Z" fill="none" stroke="#22a055" stroke-width="1.15" stroke-linejoin="miter"/>
<path d="M58.71 126.48 L65.11 126.48 L61.91 131.38 Z" fill="none" stroke="#22a055" stroke-width="1.15" stroke-linejoin="miter"/>
<path d="M63.12 122.57 L69.52 122.57 L66.32 127.47 Z" fill="none" stroke="#22a055" stroke-width="1.15" stroke-linejoin="miter"/>
<path d="M67.54 118.69 L73.94 118.69 L70.74 123.59 Z" fill="none" stroke="#22a055" stroke-width="1.15" stroke-linejoin="miter"/>
<path d="M71.96 114.88 L78.36 114.88 L75.16 119.78 Z" fill="none" stroke="#22a055" stroke-width="1.15" stroke-linejoin="miter"/>
<path d="M76.37 111.21 L82.77 111.21 L79.57 116.11 Z" fill="none" stroke="#22a055" stroke-width="1.15" stroke-linejoin="miter"/>
<path d="M80.79 107.41 L87.19 107.41 L83.99 112.31 Z" fill="none" stroke="#22a055" stroke-width="1.15" stroke-linejoin="miter"/>
<path d="M85.2 103.44 L91.6 103.44 L88.4 108.34 Z" fill="none" stroke="#22a055" stroke-width="1.15" stroke-linejoin="miter"/>
<path d="M89.62 99.32 L96.02 99.32 L92.82 104.22 Z" fill="none" stroke="#22a055" stroke-width="1.15" stroke-linejoin="miter"/>
<path d="M94.03 94.93 L100.43 94.93 L97.23 99.83 Z" fill="none" stroke="#22a055" stroke-width="1.15" stroke-linejoin="miter"/>
<path d="M98.45 90.12 L104.85 90.12 L101.65 95.02 Z" fill="none" stroke="#22a055" stroke-width="1.15" stroke-linejoin="miter"/>
<path d="M102.86 85.52 L109.26 85.52 L106.06 90.42 Z" fill="none" stroke="#22a055" stroke-width="1.15" stroke-linejoin="miter"/>
<path d="M107.28 81.52 L113.68 81.52 L110.48 86.42 Z" fill="none" stroke="#22a055" stroke-width="1.15" stroke-linejoin="miter"/>
<path d="M111.7 77.75 L118.1 77.75 L114.9 82.65 Z" fill="none" stroke="#22a055" stroke-width="1.15" stroke-linejoin="miter"/>
<path d="M116.11 73.99 L122.51 73.99 L119.31 78.89 Z" fill="none" stroke="#22a055" stroke-width="1.15" stroke-linejoin="miter"/>
<path d="M120.53 70.41 L126.93 70.41 L123.73 75.31 Z" fill="none" stroke="#22a055" stroke-width="1.15" stroke-linejoin="miter"/>
<path d="M124.94 67.03 L131.34 67.03 L128.14 71.93 Z" fill="none" stroke="#22a055" stroke-width="1.15" stroke-linejoin="miter"/>
<path d="M129.36 63.93 L135.76 63.93 L132.56 68.83 Z" fill="none" stroke="#22a055" stroke-width="1.15" stroke-linejoin="miter"/>
<path d="M133.77 61.26 L140.17 61.26 L136.97 66.16 Z" fill="none" stroke="#22a055" stroke-width="1.15" stroke-linejoin="miter"/>
<path d="M138.19 58.75 L144.59 58.75 L141.39 63.65 Z" fill="none" stroke="#22a055" stroke-width="1.15" stroke-linejoin="miter"/>
<path d="M142.6 56.18 L149 56.18 L145.8 61.08 Z" fill="none" stroke="#22a055" stroke-width="1.15" stroke-linejoin="miter"/>
<path d="M147.02 53.61 L153.42 53.61 L150.22 58.51 Z" fill="none" stroke="#22a055" stroke-width="1.15" stroke-linejoin="miter"/>
<path d="M151.44 51.06 L157.84 51.06 L154.64 55.96 Z" fill="none" stroke="#22a055" stroke-width="1.15" stroke-linejoin="miter"/>
<path d="M155.85 48.53 L162.25 48.53 L159.05 53.43 Z" fill="none" stroke="#22a055" stroke-width="1.15" stroke-linejoin="miter"/>
<path d="M160.27 46.05 L166.67 46.05 L163.47 50.95 Z" fill="none" stroke="#22a055" stroke-width="1.15" stroke-linejoin="miter"/>
<path d="M164.68 43.55 L171.08 43.55 L167.88 48.45 Z" fill="none" stroke="#22a055" stroke-width="1.15" stroke-linejoin="miter"/>
<path d="M169.1 41.09 L175.5 41.09 L172.3 45.99 Z" fill="none" stroke="#22a055" stroke-width="1.15" stroke-linejoin="miter"/>
<path d="M173.51 38.89 L179.91 38.89 L176.71 43.79 Z" fill="none" stroke="#22a055" stroke-width="1.15" stroke-linejoin="miter"/>
<path d="M177.93 36.97 L184.33 36.97 L181.13 41.87 Z" fill="none" stroke="#22a055" stroke-width="1.15" stroke-linejoin="miter"/>
<path d="M182.34 35.25 L188.74 35.25 L185.54 40.15 Z" fill="none" stroke="#22a055" stroke-width="1.15" stroke-linejoin="miter"/>
<path d="M186.76 33.71 L193.16 33.71 L189.96 38.61 Z" fill="none" stroke="#22a055" stroke-width="1.15" stroke-linejoin="miter"/>
<path d="M191.18 32.3 L197.58 32.3 L194.38 37.2 Z" fill="none" stroke="#22a055" stroke-width="1.15" stroke-linejoin="miter"/>
<path d="M195.59 30.99 L201.99 30.99 L198.79 35.89 Z" fill="none" stroke="#22a055" stroke-width="1.15" stroke-linejoin="miter"/>
<path d="M200.01 29.81 L206.41 29.81 L203.21 34.71 Z" fill="none" stroke="#22a055" stroke-width="1.15" stroke-linejoin="miter"/>
<path d="M204.42 28.78 L210.82 28.78 L207.62 33.68 Z" fill="none" stroke="#22a055" stroke-width="1.15" stroke-linejoin="miter"/>
<path d="M31 155.5 L31.88 154.87 L32.77 154.23 L33.65 153.6 L34.53 152.96 L35.42 152.32 L36.3 151.67 L37.18 151.03 L38.06 150.38 L38.95 149.73 L39.83 149.08 L40.71 148.43 L41.6 147.77 L42.48 147.11 L43.36 146.45 L44.25 145.79 L45.13 145.12 L46.01 144.46 L46.9 143.79 L47.78 143.12 L48.66 142.45 L49.55 141.77 L50.43 141.09 L51.31 140.42 L52.19 139.73 L53.08 139.05 L53.96 138.37 L54.84 137.68 L55.73 136.99 L56.61 136.3 L57.49 135.61 L58.38 134.91 L59.26 134.22 L60.14 133.52 L61.03 132.82 L61.91 132.12 L62.79 131.41 L63.68 130.71 L64.56 130 L65.44 129.29 L66.32 128.58 L67.21 127.86 L68.09 127.15 L68.97 126.43 L69.86 125.72 L70.74 125 L71.62 124.27 L72.51 123.55 L73.39 122.82 L74.27 122.1 L75.16 121.37 L76.04 120.64 L76.92 119.91 L77.8 119.17 L78.69 118.44 L79.57 117.7 L80.45 116.96 L81.34 116.22 L82.22 115.48 L83.1 114.73 L83.99 113.99 L84.87 113.23 L85.75 112.47 L86.64 111.71 L87.52 110.95 L88.4 110.18 L89.29 109.41 L90.17 108.63 L91.05 107.85 L91.93 107.07 L92.82 106.28 L93.7 105.5 L94.58 104.71 L95.47 103.91 L96.35 103.12 L97.23 102.32 L98.12 101.52 L99 100.72 L99.88 99.92 L100.77 99.11 L101.65 98.3 L102.53 97.49 L103.42 96.68 L104.3 95.87 L105.18 95.06 L106.06 94.24 L106.95 93.43 L107.83 92.61 L108.71 91.79 L109.6 90.98 L110.48 90.16 L111.36 89.34 L112.25 88.52 L113.13 87.7 L114.01 86.88 L114.9 86.06 L115.78 85.24 L116.66 84.43 L117.54 83.61 L118.43 82.79 L119.31 81.97 L120.19 81.16 L121.08 80.34 L121.96 79.53 L122.84 78.72 L123.73 77.9 L124.61 77.09 L125.49 76.29 L126.38 75.48 L127.26 74.66 L128.14 73.83 L129.03 72.99 L129.91 72.16 L130.79 71.34 L131.67 70.54 L132.56 69.76 L133.44 69 L134.32 68.26 L135.21 67.53 L136.09 66.81 L136.97 66.11 L137.86 65.41 L138.74 64.72 L139.62 64.04 L140.51 63.36 L141.39 62.7 L142.27 62.03 L143.16 61.37 L144.04 60.72 L144.92 60.06 L145.8 59.41 L146.69 58.76 L147.57 58.12 L148.45 57.48 L149.34 56.85 L150.22 56.22 L151.1 55.6 L151.99 54.98 L152.87 54.37 L153.75 53.76 L154.64 53.14 L155.52 52.53 L156.4 51.92 L157.28 51.31 L158.17 50.7 L159.05 50.09 L159.93 49.47 L160.82 48.85 L161.7 48.24 L162.58 47.62 L163.47 47.01 L164.35 46.4 L165.23 45.78 L166.12 45.17 L167 44.56 L167.88 43.95 L168.77 43.33 L169.65 42.72 L170.53 42.1 L171.41 41.49 L172.3 40.87 L173.18 40.25 L174.06 39.62 L174.95 38.98 L175.83 38.33 L176.71 37.67 L177.6 37.01 L178.48 36.35 L179.36 35.7 L180.25 35.05 L181.13 34.42 L182.01 33.8 L182.9 33.2 L183.78 32.62 L184.66 32.06 L185.54 31.53 L186.43 31.02 L187.31 30.53 L188.19 30.03 L189.08 29.55 L189.96 29.06 L190.84 28.59 L191.73 28.12 L192.61 27.66 L193.49 27.2 L194.38 26.76 L195.26 26.32 L196.14 25.89 L197.02 25.46 L197.91 25.05 L198.79 24.65 L199.67 24.25 L200.56 23.87 L201.44 23.5 L202.32 23.14 L203.21 22.79 L204.09 22.45 L204.97 22.12 L205.86 21.81 L206.74 21.51 L207.62 21.22" fill="none" stroke="#22a055" stroke-width="1.5" stroke-linejoin="round"/>
</g>
<g clip-path="url(#cb)">
<circle cx="342.1" cy="155.5" r="2.9" fill="none" stroke="#424242" stroke-width="1.15"/>
<circle cx="346.51" cy="138.5" r="2.9" fill="none" stroke="#424242" stroke-width="1.15"/>
<circle cx="350.92" cy="120.73" r="2.9" fill="none" stroke="#424242" stroke-width="1.15"/>
<circle cx="355.33" cy="106.44" r="2.9" fill="none" stroke="#424242" stroke-width="1.15"/>
<circle cx="359.74" cy="92.92" r="2.9" fill="none" stroke="#424242" stroke-width="1.15"/>
<circle cx="364.16" cy="79.78" r="2.9" fill="none" stroke="#424242" stroke-width="1.15"/>
<circle cx="368.57" cy="68.97" r="2.9" fill="none" stroke="#424242" stroke-width="1.15"/>
<circle cx="372.98" cy="58.92" r="2.9" fill="none" stroke="#424242" stroke-width="1.15"/>
<circle cx="377.39" cy="49.65" r="2.9" fill="none" stroke="#424242" stroke-width="1.15"/>
<circle cx="381.8" cy="43.47" r="2.9" fill="none" stroke="#424242" stroke-width="1.15"/>
<circle cx="386.21" cy="37.29" r="2.9" fill="none" stroke="#424242" stroke-width="1.15"/>
<circle cx="390.62" cy="32.65" r="2.9" fill="none" stroke="#424242" stroke-width="1.15"/>
<circle cx="395.03" cy="29.56" r="2.9" fill="none" stroke="#424242" stroke-width="1.15"/>
<circle cx="399.44" cy="27.64" r="2.9" fill="none" stroke="#424242" stroke-width="1.15"/>
<circle cx="403.86" cy="26.47" r="2.9" fill="none" stroke="#424242" stroke-width="1.15"/>
<circle cx="408.27" cy="25.97" r="2.9" fill="none" stroke="#424242" stroke-width="1.15"/>
<circle cx="412.68" cy="25.7" r="2.9" fill="none" stroke="#424242" stroke-width="1.15"/>
<circle cx="417.09" cy="25.54" r="2.9" fill="none" stroke="#424242" stroke-width="1.15"/>
<circle cx="421.5" cy="25.39" r="2.9" fill="none" stroke="#424242" stroke-width="1.15"/>
<circle cx="425.91" cy="25.24" r="2.9" fill="none" stroke="#424242" stroke-width="1.15"/>
<circle cx="430.32" cy="25.1" r="2.9" fill="none" stroke="#424242" stroke-width="1.15"/>
<circle cx="434.73" cy="24.97" r="2.9" fill="none" stroke="#424242" stroke-width="1.15"/>
<circle cx="439.14" cy="24.84" r="2.9" fill="none" stroke="#424242" stroke-width="1.15"/>
<circle cx="443.56" cy="24.73" r="2.9" fill="none" stroke="#424242" stroke-width="1.15"/>
<circle cx="447.97" cy="24.62" r="2.9" fill="none" stroke="#424242" stroke-width="1.15"/>
<circle cx="452.38" cy="24.51" r="2.9" fill="none" stroke="#424242" stroke-width="1.15"/>
<circle cx="456.79" cy="24.42" r="2.9" fill="none" stroke="#424242" stroke-width="1.15"/>
<circle cx="461.2" cy="24.33" r="2.9" fill="none" stroke="#424242" stroke-width="1.15"/>
<circle cx="465.61" cy="24.24" r="2.9" fill="none" stroke="#424242" stroke-width="1.15"/>
<circle cx="470.02" cy="24.17" r="2.9" fill="none" stroke="#424242" stroke-width="1.15"/>
<circle cx="474.43" cy="24.1" r="2.9" fill="none" stroke="#424242" stroke-width="1.15"/>
<circle cx="478.84" cy="24.03" r="2.9" fill="none" stroke="#424242" stroke-width="1.15"/>
<circle cx="483.26" cy="23.98" r="2.9" fill="none" stroke="#424242" stroke-width="1.15"/>
<circle cx="487.67" cy="23.93" r="2.9" fill="none" stroke="#424242" stroke-width="1.15"/>
<circle cx="492.08" cy="23.88" r="2.9" fill="none" stroke="#424242" stroke-width="1.15"/>
<circle cx="496.49" cy="23.85" r="2.9" fill="none" stroke="#424242" stroke-width="1.15"/>
<circle cx="500.9" cy="23.82" r="2.9" fill="none" stroke="#424242" stroke-width="1.15"/>
<circle cx="505.31" cy="23.8" r="2.9" fill="none" stroke="#424242" stroke-width="1.15"/>
<circle cx="509.72" cy="23.78" r="2.9" fill="none" stroke="#424242" stroke-width="1.15"/>
<circle cx="514.13" cy="23.77" r="2.9" fill="none" stroke="#424242" stroke-width="1.15"/>
<circle cx="518.54" cy="23.77" r="2.9" fill="none" stroke="#424242" stroke-width="1.15"/>
<path d="M342.1 155.5 L342.98 152.09 L343.86 148.71 L344.75 145.36 L345.63 142.06 L346.51 138.78 L347.39 135.54 L348.28 132.34 L349.16 129.17 L350.04 126.04 L350.92 122.95 L351.8 119.89 L352.69 116.88 L353.57 113.89 L354.45 110.95 L355.33 108.04 L356.22 105.18 L357.1 102.35 L357.98 99.56 L358.86 96.81 L359.74 94.1 L360.63 91.43 L361.51 88.8 L362.39 86.21 L363.27 83.67 L364.16 81.16 L365.04 78.7 L365.92 76.28 L366.8 73.91 L367.68 71.58 L368.57 69.29 L369.45 67.05 L370.33 64.86 L371.21 62.71 L372.1 60.61 L372.98 58.56 L373.86 56.55 L374.74 54.6 L375.62 52.69 L376.51 50.84 L377.39 49.04 L378.27 47.29 L379.15 45.6 L380.04 43.96 L380.92 42.38 L381.8 40.86 L382.68 39.39 L383.56 37.99 L384.45 36.65 L385.33 35.38 L386.21 34.17 L387.09 33.04 L387.98 31.98 L388.86 30.99 L389.74 30.09 L390.62 29.27 L391.5 28.55 L392.39 27.92 L393.27 27.41 L394.15 27.04 L395.03 26.86 L395.92 26.84 L396.8 26.82 L397.68 26.8 L398.56 26.78 L399.44 26.76 L400.33 26.74 L401.21 26.72 L402.09 26.7 L402.97 26.68 L403.86 26.66 L404.74 26.64 L405.62 26.63 L406.5 26.61 L407.38 26.59 L408.27 26.57 L409.15 26.55 L410.03 26.53 L410.91 26.51 L411.8 26.49 L412.68 26.47 L413.56 26.45 L414.44 26.43 L415.32 26.41 L416.21 26.39 L417.09 26.37 L417.97 26.35 L418.85 26.34 L419.74 26.32 L420.62 26.3 L421.5 26.28 L422.38 26.26 L423.26 26.24 L424.15 26.22 L425.03 26.2 L425.91 26.18 L426.79 26.16 L427.68 26.14 L428.56 26.12 L429.44 26.1 L430.32 26.08 L431.2 26.06 L432.09 26.05 L432.97 26.03 L433.85 26.01 L434.73 25.99 L435.62 25.97 L436.5 25.95 L437.38 25.93 L438.26 25.91 L439.14 25.89 L440.03 25.87 L440.91 25.85 L441.79 25.83 L442.67 25.81 L443.56 25.79 L444.44 25.78 L445.32 25.76 L446.2 25.74 L447.08 25.72 L447.97 25.7 L448.85 25.68 L449.73 25.66 L450.61 25.64 L451.5 25.62 L452.38 25.6 L453.26 25.58 L454.14 25.56 L455.02 25.54 L455.91 25.52 L456.79 25.5 L457.67 25.49 L458.55 25.47 L459.44 25.45 L460.32 25.43 L461.2 25.41 L462.08 25.39 L462.96 25.37 L463.85 25.35 L464.73 25.33 L465.61 25.31 L466.49 25.29 L467.38 25.27 L468.26 25.25 L469.14 25.23 L470.02 25.21 L470.9 25.2 L471.79 25.18 L472.67 25.16 L473.55 25.14 L474.43 25.12 L475.32 25.1 L476.2 25.08 L477.08 25.06 L477.96 25.04 L478.84 25.02 L479.73 25 L480.61 24.98 L481.49 24.96 L482.37 24.94 L483.26 24.93 L484.14 24.91 L485.02 24.89 L485.9 24.87 L486.78 24.85 L487.67 24.83 L488.55 24.81 L489.43 24.79 L490.31 24.77 L491.2 24.75 L492.08 24.73 L492.96 24.71 L493.84 24.69 L494.72 24.67 L495.61 24.65 L496.49 24.64 L497.37 24.62 L498.25 24.6 L499.14 24.58 L500.02 24.56 L500.9 24.54 L501.78 24.52 L502.66 24.5 L503.55 24.48 L504.43 24.46 L505.31 24.44 L506.19 24.42 L507.08 24.4 L507.96 24.38 L508.84 24.37 L509.72 24.35 L510.6 24.33 L511.49 24.31 L512.37 24.29 L513.25 24.27 L514.13 24.25 L515.02 24.23 L515.9 24.21 L516.78 24.19 L517.66 24.17 L518.54 24.15" fill="none" stroke="#424242" stroke-width="1.5" stroke-linejoin="round"/>
</g>
<g clip-path="url(#cb)">
<rect x="339.6" y="153" width="5" height="5" fill="none" stroke="#f53232" stroke-width="1.15"/>
<rect x="344.01" y="137.79" width="5" height="5" fill="none" stroke="#f53232" stroke-width="1.15"/>
<rect x="348.42" y="121.7" width="5" height="5" fill="none" stroke="#f53232" stroke-width="1.15"/>
<rect x="352.83" y="108.47" width="5" height="5" fill="none" stroke="#f53232" stroke-width="1.15"/>
<rect x="357.24" y="96.25" width="5" height="5" fill="none" stroke="#f53232" stroke-width="1.15"/>
<rect x="361.66" y="84.22" width="5" height="5" fill="none" stroke="#f53232" stroke-width="1.15"/>
<rect x="366.07" y="73.72" width="5" height="5" fill="none" stroke="#f53232" stroke-width="1.15"/>
<rect x="370.48" y="64.46" width="5" height="5" fill="none" stroke="#f53232" stroke-width="1.15"/>
<rect x="374.89" y="55.63" width="5" height="5" fill="none" stroke="#f53232" stroke-width="1.15"/>
<rect x="379.3" y="48.36" width="5" height="5" fill="none" stroke="#f53232" stroke-width="1.15"/>
<rect x="383.71" y="42.96" width="5" height="5" fill="none" stroke="#f53232" stroke-width="1.15"/>
<rect x="388.12" y="37.64" width="5" height="5" fill="none" stroke="#f53232" stroke-width="1.15"/>
<rect x="392.53" y="33.69" width="5" height="5" fill="none" stroke="#f53232" stroke-width="1.15"/>
<rect x="396.94" y="31.01" width="5" height="5" fill="none" stroke="#f53232" stroke-width="1.15"/>
<rect x="401.36" y="29.29" width="5" height="5" fill="none" stroke="#f53232" stroke-width="1.15"/>
<rect x="405.77" y="28.17" width="5" height="5" fill="none" stroke="#f53232" stroke-width="1.15"/>
<rect x="410.18" y="27.69" width="5" height="5" fill="none" stroke="#f53232" stroke-width="1.15"/>
<rect x="414.59" y="27.4" width="5" height="5" fill="none" stroke="#f53232" stroke-width="1.15"/>
<rect x="419" y="27.24" width="5" height="5" fill="none" stroke="#f53232" stroke-width="1.15"/>
<rect x="423.41" y="27.09" width="5" height="5" fill="none" stroke="#f53232" stroke-width="1.15"/>
<rect x="427.82" y="26.94" width="5" height="5" fill="none" stroke="#f53232" stroke-width="1.15"/>
<rect x="432.23" y="26.8" width="5" height="5" fill="none" stroke="#f53232" stroke-width="1.15"/>
<rect x="436.64" y="26.67" width="5" height="5" fill="none" stroke="#f53232" stroke-width="1.15"/>
<rect x="441.06" y="26.54" width="5" height="5" fill="none" stroke="#f53232" stroke-width="1.15"/>
<rect x="445.47" y="26.42" width="5" height="5" fill="none" stroke="#f53232" stroke-width="1.15"/>
<rect x="449.88" y="26.31" width="5" height="5" fill="none" stroke="#f53232" stroke-width="1.15"/>
<rect x="454.29" y="26.21" width="5" height="5" fill="none" stroke="#f53232" stroke-width="1.15"/>
<rect x="458.7" y="26.11" width="5" height="5" fill="none" stroke="#f53232" stroke-width="1.15"/>
<rect x="463.11" y="26.02" width="5" height="5" fill="none" stroke="#f53232" stroke-width="1.15"/>
<rect x="467.52" y="25.93" width="5" height="5" fill="none" stroke="#f53232" stroke-width="1.15"/>
<rect x="471.93" y="25.85" width="5" height="5" fill="none" stroke="#f53232" stroke-width="1.15"/>
<rect x="476.34" y="25.78" width="5" height="5" fill="none" stroke="#f53232" stroke-width="1.15"/>
<rect x="480.76" y="25.72" width="5" height="5" fill="none" stroke="#f53232" stroke-width="1.15"/>
<rect x="485.17" y="25.67" width="5" height="5" fill="none" stroke="#f53232" stroke-width="1.15"/>
<rect x="489.58" y="25.62" width="5" height="5" fill="none" stroke="#f53232" stroke-width="1.15"/>
<rect x="493.99" y="25.58" width="5" height="5" fill="none" stroke="#f53232" stroke-width="1.15"/>
<rect x="498.4" y="25.54" width="5" height="5" fill="none" stroke="#f53232" stroke-width="1.15"/>
<rect x="502.81" y="25.52" width="5" height="5" fill="none" stroke="#f53232" stroke-width="1.15"/>
<rect x="507.22" y="25.5" width="5" height="5" fill="none" stroke="#f53232" stroke-width="1.15"/>
<rect x="511.63" y="25.49" width="5" height="5" fill="none" stroke="#f53232" stroke-width="1.15"/>
<rect x="516.04" y="25.48" width="5" height="5" fill="none" stroke="#f53232" stroke-width="1.15"/>
<path d="M342.1 155.5 L342.98 152.45 L343.86 149.43 L344.75 146.44 L345.63 143.47 L346.51 140.54 L347.39 137.63 L348.28 134.76 L349.16 131.91 L350.04 129.09 L350.92 126.3 L351.8 123.54 L352.69 120.81 L353.57 118.11 L354.45 115.44 L355.33 112.8 L356.22 110.19 L357.1 107.61 L357.98 105.07 L358.86 102.55 L359.74 100.07 L360.63 97.62 L361.51 95.21 L362.39 92.82 L363.27 90.47 L364.16 88.15 L365.04 85.87 L365.92 83.62 L366.8 81.4 L367.68 79.22 L368.57 77.07 L369.45 74.96 L370.33 72.89 L371.21 70.85 L372.1 68.84 L372.98 66.88 L373.86 64.95 L374.74 63.06 L375.62 61.21 L376.51 59.4 L377.39 57.63 L378.27 55.9 L379.15 54.21 L380.04 52.56 L380.92 50.96 L381.8 49.39 L382.68 47.88 L383.56 46.4 L384.45 44.97 L385.33 43.59 L386.21 42.26 L387.09 40.98 L387.98 39.74 L388.86 38.56 L389.74 37.43 L390.62 36.36 L391.5 35.34 L392.39 34.39 L393.27 33.49 L394.15 32.66 L395.03 31.9 L395.92 31.21 L396.8 30.6 L397.68 30.07 L398.56 29.64 L399.44 29.33 L400.33 29.17 L401.21 29.17 L402.09 29.16 L402.97 29.15 L403.86 29.14 L404.74 29.13 L405.62 29.12 L406.5 29.11 L407.38 29.11 L408.27 29.1 L409.15 29.09 L410.03 29.08 L410.91 29.07 L411.8 29.06 L412.68 29.05 L413.56 29.05 L414.44 29.04 L415.32 29.03 L416.21 29.02 L417.09 29.01 L417.97 29 L418.85 28.99 L419.74 28.98 L420.62 28.98 L421.5 28.97 L422.38 28.96 L423.26 28.95 L424.15 28.94 L425.03 28.93 L425.91 28.92 L426.79 28.92 L427.68 28.91 L428.56 28.9 L429.44 28.89 L430.32 28.88 L431.2 28.87 L432.09 28.86 L432.97 28.85 L433.85 28.85 L434.73 28.84 L435.62 28.83 L436.5 28.82 L437.38 28.81 L438.26 28.8 L439.14 28.79 L440.03 28.79 L440.91 28.78 L441.79 28.77 L442.67 28.76 L443.56 28.75 L444.44 28.74 L445.32 28.73 L446.2 28.72 L447.08 28.72 L447.97 28.71 L448.85 28.7 L449.73 28.69 L450.61 28.68 L451.5 28.67 L452.38 28.66 L453.26 28.66 L454.14 28.65 L455.02 28.64 L455.91 28.63 L456.79 28.62 L457.67 28.61 L458.55 28.6 L459.44 28.6 L460.32 28.59 L461.2 28.58 L462.08 28.57 L462.96 28.56 L463.85 28.55 L464.73 28.54 L465.61 28.53 L466.49 28.53 L467.38 28.52 L468.26 28.51 L469.14 28.5 L470.02 28.49 L470.9 28.48 L471.79 28.47 L472.67 28.47 L473.55 28.46 L474.43 28.45 L475.32 28.44 L476.2 28.43 L477.08 28.42 L477.96 28.41 L478.84 28.4 L479.73 28.4 L480.61 28.39 L481.49 28.38 L482.37 28.37 L483.26 28.36 L484.14 28.35 L485.02 28.34 L485.9 28.34 L486.78 28.33 L487.67 28.32 L488.55 28.31 L489.43 28.3 L490.31 28.29 L491.2 28.28 L492.08 28.28 L492.96 28.27 L493.84 28.26 L494.72 28.25 L495.61 28.24 L496.49 28.23 L497.37 28.22 L498.25 28.21 L499.14 28.21 L500.02 28.2 L500.9 28.19 L501.78 28.18 L502.66 28.17 L503.55 28.16 L504.43 28.15 L505.31 28.15 L506.19 28.14 L507.08 28.13 L507.96 28.12 L508.84 28.11 L509.72 28.1 L510.6 28.09 L511.49 28.08 L512.37 28.08 L513.25 28.07 L514.13 28.06 L515.02 28.05 L515.9 28.04 L516.78 28.03 L517.66 28.02 L518.54 28.02" fill="none" stroke="#f53232" stroke-width="1.5" stroke-linejoin="round"/>
</g>
<g clip-path="url(#cb)">
<path d="M338.9 157.26 L345.3 157.26 L342.1 152.36 Z" fill="none" stroke="#1766e6" stroke-width="1.15" stroke-linejoin="miter"/>
<path d="M343.31 142.49 L349.71 142.49 L346.51 137.59 Z" fill="none" stroke="#1766e6" stroke-width="1.15" stroke-linejoin="miter"/>
<path d="M347.72 126.8 L354.12 126.8 L350.92 121.9 Z" fill="none" stroke="#1766e6" stroke-width="1.15" stroke-linejoin="miter"/>
<path d="M352.13 113.35 L358.53 113.35 L355.33 108.45 Z" fill="none" stroke="#1766e6" stroke-width="1.15" stroke-linejoin="miter"/>
<path d="M356.54 101.37 L362.94 101.37 L359.74 96.47 Z" fill="none" stroke="#1766e6" stroke-width="1.15" stroke-linejoin="miter"/>
<path d="M360.96 89.67 L367.36 89.67 L364.16 84.77 Z" fill="none" stroke="#1766e6" stroke-width="1.15" stroke-linejoin="miter"/>
<path d="M365.37 78.51 L371.77 78.51 L368.57 73.61 Z" fill="none" stroke="#1766e6" stroke-width="1.15" stroke-linejoin="miter"/>
<path d="M369.78 69.18 L376.18 69.18 L372.98 64.28 Z" fill="none" stroke="#1766e6" stroke-width="1.15" stroke-linejoin="miter"/>
<path d="M374.19 60.36 L380.59 60.36 L377.39 55.46 Z" fill="none" stroke="#1766e6" stroke-width="1.15" stroke-linejoin="miter"/>
<path d="M378.6 51.9 L385 51.9 L381.8 47 Z" fill="none" stroke="#1766e6" stroke-width="1.15" stroke-linejoin="miter"/>
<path d="M383.01 45.71 L389.41 45.71 L386.21 40.81 Z" fill="none" stroke="#1766e6" stroke-width="1.15" stroke-linejoin="miter"/>
<path d="M387.42 40.37 L393.82 40.37 L390.62 35.47 Z" fill="none" stroke="#1766e6" stroke-width="1.15" stroke-linejoin="miter"/>
<path d="M391.83 35.33 L398.23 35.33 L395.03 30.43 Z" fill="none" stroke="#1766e6" stroke-width="1.15" stroke-linejoin="miter"/>
<path d="M396.24 31.54 L402.64 31.54 L399.44 26.64 Z" fill="none" stroke="#1766e6" stroke-width="1.15" stroke-linejoin="miter"/>
<path d="M400.66 28.88 L407.06 28.88 L403.86 23.98 Z" fill="none" stroke="#1766e6" stroke-width="1.15" stroke-linejoin="miter"/>
<path d="M405.07 27.15 L411.47 27.15 L408.27 22.25 Z" fill="none" stroke="#1766e6" stroke-width="1.15" stroke-linejoin="miter"/>
<path d="M409.48 25.92 L415.88 25.92 L412.68 21.02 Z" fill="none" stroke="#1766e6" stroke-width="1.15" stroke-linejoin="miter"/>
<path d="M413.89 25.36 L420.29 25.36 L417.09 20.46 Z" fill="none" stroke="#1766e6" stroke-width="1.15" stroke-linejoin="miter"/>
<path d="M418.3 25.02 L424.7 25.02 L421.5 20.12 Z" fill="none" stroke="#1766e6" stroke-width="1.15" stroke-linejoin="miter"/>
<path d="M422.71 24.82 L429.11 24.82 L425.91 19.92 Z" fill="none" stroke="#1766e6" stroke-width="1.15" stroke-linejoin="miter"/>
<path d="M427.12 24.65 L433.52 24.65 L430.32 19.75 Z" fill="none" stroke="#1766e6" stroke-width="1.15" stroke-linejoin="miter"/>
<path d="M431.53 24.49 L437.93 24.49 L434.73 19.59 Z" fill="none" stroke="#1766e6" stroke-width="1.15" stroke-linejoin="miter"/>
<path d="M435.94 24.34 L442.34 24.34 L439.14 19.44 Z" fill="none" stroke="#1766e6" stroke-width="1.15" stroke-linejoin="miter"/>
<path d="M440.36 24.19 L446.76 24.19 L443.56 19.29 Z" fill="none" stroke="#1766e6" stroke-width="1.15" stroke-linejoin="miter"/>
<path d="M444.77 24.05 L451.17 24.05 L447.97 19.15 Z" fill="none" stroke="#1766e6" stroke-width="1.15" stroke-linejoin="miter"/>
<path d="M449.18 23.92 L455.58 23.92 L452.38 19.02 Z" fill="none" stroke="#1766e6" stroke-width="1.15" stroke-linejoin="miter"/>
<path d="M453.59 23.79 L459.99 23.79 L456.79 18.89 Z" fill="none" stroke="#1766e6" stroke-width="1.15" stroke-linejoin="miter"/>
<path d="M458 23.67 L464.4 23.67 L461.2 18.77 Z" fill="none" stroke="#1766e6" stroke-width="1.15" stroke-linejoin="miter"/>
<path d="M462.41 23.56 L468.81 23.56 L465.61 18.66 Z" fill="none" stroke="#1766e6" stroke-width="1.15" stroke-linejoin="miter"/>
<path d="M466.82 23.46 L473.22 23.46 L470.02 18.56 Z" fill="none" stroke="#1766e6" stroke-width="1.15" stroke-linejoin="miter"/>
<path d="M471.23 23.37 L477.63 23.37 L474.43 18.47 Z" fill="none" stroke="#1766e6" stroke-width="1.15" stroke-linejoin="miter"/>
<path d="M475.64 23.28 L482.04 23.28 L478.84 18.38 Z" fill="none" stroke="#1766e6" stroke-width="1.15" stroke-linejoin="miter"/>
<path d="M480.06 23.2 L486.46 23.2 L483.26 18.3 Z" fill="none" stroke="#1766e6" stroke-width="1.15" stroke-linejoin="miter"/>
<path d="M484.47 23.13 L490.87 23.13 L487.67 18.23 Z" fill="none" stroke="#1766e6" stroke-width="1.15" stroke-linejoin="miter"/>
<path d="M488.88 23.07 L495.28 23.07 L492.08 18.17 Z" fill="none" stroke="#1766e6" stroke-width="1.15" stroke-linejoin="miter"/>
<path d="M493.29 23.02 L499.69 23.02 L496.49 18.12 Z" fill="none" stroke="#1766e6" stroke-width="1.15" stroke-linejoin="miter"/>
<path d="M497.7 22.97 L504.1 22.97 L500.9 18.07 Z" fill="none" stroke="#1766e6" stroke-width="1.15" stroke-linejoin="miter"/>
<path d="M502.11 22.94 L508.51 22.94 L505.31 18.04 Z" fill="none" stroke="#1766e6" stroke-width="1.15" stroke-linejoin="miter"/>
<path d="M506.52 22.92 L512.92 22.92 L509.72 18.02 Z" fill="none" stroke="#1766e6" stroke-width="1.15" stroke-linejoin="miter"/>
<path d="M510.93 22.9 L517.33 22.9 L514.13 18 Z" fill="none" stroke="#1766e6" stroke-width="1.15" stroke-linejoin="miter"/>
<path d="M515.34 22.9 L521.74 22.9 L518.54 18 Z" fill="none" stroke="#1766e6" stroke-width="1.15" stroke-linejoin="miter"/>
<path d="M342.1 155.5 L342.98 152.71 L343.86 149.94 L344.75 147.2 L345.63 144.47 L346.51 141.77 L347.39 139.1 L348.28 136.44 L349.16 133.81 L350.04 131.2 L350.92 128.62 L351.8 126.06 L352.69 123.53 L353.57 121.01 L354.45 118.53 L355.33 116.06 L356.22 113.62 L357.1 111.21 L357.98 108.82 L358.86 106.46 L359.74 104.12 L360.63 101.8 L361.51 99.52 L362.39 97.25 L363.27 95.02 L364.16 92.81 L365.04 90.62 L365.92 88.47 L366.8 86.34 L367.68 84.23 L368.57 82.16 L369.45 80.11 L370.33 78.09 L371.21 76.1 L372.1 74.13 L372.98 72.19 L373.86 70.29 L374.74 68.41 L375.62 66.56 L376.51 64.74 L377.39 62.95 L378.27 61.19 L379.15 59.47 L380.04 57.77 L380.92 56.1 L381.8 54.47 L382.68 52.87 L383.56 51.3 L384.45 49.77 L385.33 48.27 L386.21 46.8 L387.09 45.37 L387.98 43.97 L388.86 42.61 L389.74 41.29 L390.62 40 L391.5 38.75 L392.39 37.54 L393.27 36.37 L394.15 35.24 L395.03 34.15 L395.92 33.11 L396.8 32.11 L397.68 31.15 L398.56 30.24 L399.44 29.38 L400.33 28.57 L401.21 27.81 L402.09 27.11 L402.97 26.46 L403.86 25.88 L404.74 25.36 L405.62 24.91 L406.5 24.55 L407.38 24.28 L408.27 24.15 L409.15 24.13 L410.03 24.12 L410.91 24.1 L411.8 24.08 L412.68 24.06 L413.56 24.04 L414.44 24.02 L415.32 24 L416.21 23.99 L417.09 23.97 L417.97 23.95 L418.85 23.93 L419.74 23.91 L420.62 23.89 L421.5 23.87 L422.38 23.86 L423.26 23.84 L424.15 23.82 L425.03 23.8 L425.91 23.78 L426.79 23.76 L427.68 23.74 L428.56 23.73 L429.44 23.71 L430.32 23.69 L431.2 23.67 L432.09 23.65 L432.97 23.63 L433.85 23.61 L434.73 23.6 L435.62 23.58 L436.5 23.56 L437.38 23.54 L438.26 23.52 L439.14 23.5 L440.03 23.49 L440.91 23.47 L441.79 23.45 L442.67 23.43 L443.56 23.41 L444.44 23.39 L445.32 23.37 L446.2 23.36 L447.08 23.34 L447.97 23.32 L448.85 23.3 L449.73 23.28 L450.61 23.26 L451.5 23.24 L452.38 23.23 L453.26 23.21 L454.14 23.19 L455.02 23.17 L455.91 23.15 L456.79 23.13 L457.67 23.11 L458.55 23.1 L459.44 23.08 L460.32 23.06 L461.2 23.04 L462.08 23.02 L462.96 23 L463.85 22.98 L464.73 22.97 L465.61 22.95 L466.49 22.93 L467.38 22.91 L468.26 22.89 L469.14 22.87 L470.02 22.85 L470.9 22.84 L471.79 22.82 L472.67 22.8 L473.55 22.78 L474.43 22.76 L475.32 22.74 L476.2 22.72 L477.08 22.71 L477.96 22.69 L478.84 22.67 L479.73 22.65 L480.61 22.63 L481.49 22.61 L482.37 22.6 L483.26 22.58 L484.14 22.56 L485.02 22.54 L485.9 22.52 L486.78 22.5 L487.67 22.48 L488.55 22.47 L489.43 22.45 L490.31 22.43 L491.2 22.41 L492.08 22.39 L492.96 22.37 L493.84 22.35 L494.72 22.34 L495.61 22.32 L496.49 22.3 L497.37 22.28 L498.25 22.26 L499.14 22.24 L500.02 22.22 L500.9 22.21 L501.78 22.19 L502.66 22.17 L503.55 22.15 L504.43 22.13 L505.31 22.11 L506.19 22.09 L507.08 22.08 L507.96 22.06 L508.84 22.04 L509.72 22.02 L510.6 22 L511.49 21.98 L512.37 21.96 L513.25 21.95 L514.13 21.93 L515.02 21.91 L515.9 21.89 L516.78 21.87 L517.66 21.85 L518.54 21.83" fill="none" stroke="#1766e6" stroke-width="1.5" stroke-linejoin="round"/>
</g>
<g clip-path="url(#cb)">
<path d="M338.9 153.74 L345.3 153.74 L342.1 158.64 Z" fill="none" stroke="#22a055" stroke-width="1.15" stroke-linejoin="miter"/>
<path d="M343.31 145.44 L349.71 145.44 L346.51 150.34 Z" fill="none" stroke="#22a055" stroke-width="1.15" stroke-linejoin="miter"/>
<path d="M347.72 136.74 L354.12 136.74 L350.92 141.64 Z" fill="none" stroke="#22a055" stroke-width="1.15" stroke-linejoin="miter"/>
<path d="M352.13 127.45 L358.53 127.45 L355.33 132.35 Z" fill="none" stroke="#22a055" stroke-width="1.15" stroke-linejoin="miter"/>
<path d="M356.54 118.12 L362.94 118.12 L359.74 123.02 Z" fill="none" stroke="#22a055" stroke-width="1.15" stroke-linejoin="miter"/>
<path d="M360.96 109.34 L367.36 109.34 L364.16 114.24 Z" fill="none" stroke="#22a055" stroke-width="1.15" stroke-linejoin="miter"/>
<path d="M365.37 100.81 L371.77 100.81 L368.57 105.71 Z" fill="none" stroke="#22a055" stroke-width="1.15" stroke-linejoin="miter"/>
<path d="M369.78 92.28 L376.18 92.28 L372.98 97.18 Z" fill="none" stroke="#22a055" stroke-width="1.15" stroke-linejoin="miter"/>
<path d="M374.19 84.2 L380.59 84.2 L377.39 89.1 Z" fill="none" stroke="#22a055" stroke-width="1.15" stroke-linejoin="miter"/>
<path d="M378.6 76.96 L385 76.96 L381.8 81.86 Z" fill="none" stroke="#22a055" stroke-width="1.15" stroke-linejoin="miter"/>
<path d="M383.01 70.29 L389.41 70.29 L386.21 75.19 Z" fill="none" stroke="#22a055" stroke-width="1.15" stroke-linejoin="miter"/>
<path d="M387.42 64.14 L393.82 64.14 L390.62 69.04 Z" fill="none" stroke="#22a055" stroke-width="1.15" stroke-linejoin="miter"/>
<path d="M391.83 58.32 L398.23 58.32 L395.03 63.22 Z" fill="none" stroke="#22a055" stroke-width="1.15" stroke-linejoin="miter"/>
<path d="M396.24 52.54 L402.64 52.54 L399.44 57.44 Z" fill="none" stroke="#22a055" stroke-width="1.15" stroke-linejoin="miter"/>
<path d="M400.66 47.11 L407.06 47.11 L403.86 52.01 Z" fill="none" stroke="#22a055" stroke-width="1.15" stroke-linejoin="miter"/>
<path d="M405.07 42.26 L411.47 42.26 L408.27 47.16 Z" fill="none" stroke="#22a055" stroke-width="1.15" stroke-linejoin="miter"/>
<path d="M409.48 37.84 L415.88 37.84 L412.68 42.74 Z" fill="none" stroke="#22a055" stroke-width="1.15" stroke-linejoin="miter"/>
<path d="M413.89 33.65 L420.29 33.65 L417.09 38.55 Z" fill="none" stroke="#22a055" stroke-width="1.15" stroke-linejoin="miter"/>
<path d="M418.3 30.11 L424.7 30.11 L421.5 35.01 Z" fill="none" stroke="#22a055" stroke-width="1.15" stroke-linejoin="miter"/>
<path d="M422.71 27.41 L429.11 27.41 L425.91 32.31 Z" fill="none" stroke="#22a055" stroke-width="1.15" stroke-linejoin="miter"/>
<path d="M427.12 25.48 L433.52 25.48 L430.32 30.38 Z" fill="none" stroke="#22a055" stroke-width="1.15" stroke-linejoin="miter"/>
<path d="M431.53 24.25 L437.93 24.25 L434.73 29.15 Z" fill="none" stroke="#22a055" stroke-width="1.15" stroke-linejoin="miter"/>
<path d="M435.94 23.55 L442.34 23.55 L439.14 28.45 Z" fill="none" stroke="#22a055" stroke-width="1.15" stroke-linejoin="miter"/>
<path d="M440.36 23.29 L446.76 23.29 L443.56 28.19 Z" fill="none" stroke="#22a055" stroke-width="1.15" stroke-linejoin="miter"/>
<path d="M444.77 23.16 L451.17 23.16 L447.97 28.06 Z" fill="none" stroke="#22a055" stroke-width="1.15" stroke-linejoin="miter"/>
<path d="M449.18 23.11 L455.58 23.11 L452.38 28.01 Z" fill="none" stroke="#22a055" stroke-width="1.15" stroke-linejoin="miter"/>
<path d="M453.59 23.06 L459.99 23.06 L456.79 27.96 Z" fill="none" stroke="#22a055" stroke-width="1.15" stroke-linejoin="miter"/>
<path d="M458 23.02 L464.4 23.02 L461.2 27.92 Z" fill="none" stroke="#22a055" stroke-width="1.15" stroke-linejoin="miter"/>
<path d="M462.41 22.98 L468.81 22.98 L465.61 27.88 Z" fill="none" stroke="#22a055" stroke-width="1.15" stroke-linejoin="miter"/>
<path d="M466.82 22.94 L473.22 22.94 L470.02 27.84 Z" fill="none" stroke="#22a055" stroke-width="1.15" stroke-linejoin="miter"/>
<path d="M471.23 22.91 L477.63 22.91 L474.43 27.81 Z" fill="none" stroke="#22a055" stroke-width="1.15" stroke-linejoin="miter"/>
<path d="M475.64 22.89 L482.04 22.89 L478.84 27.79 Z" fill="none" stroke="#22a055" stroke-width="1.15" stroke-linejoin="miter"/>
<path d="M480.06 22.86 L486.46 22.86 L483.26 27.76 Z" fill="none" stroke="#22a055" stroke-width="1.15" stroke-linejoin="miter"/>
<path d="M484.47 22.84 L490.87 22.84 L487.67 27.74 Z" fill="none" stroke="#22a055" stroke-width="1.15" stroke-linejoin="miter"/>
<path d="M488.88 22.82 L495.28 22.82 L492.08 27.72 Z" fill="none" stroke="#22a055" stroke-width="1.15" stroke-linejoin="miter"/>
<path d="M493.29 22.81 L499.69 22.81 L496.49 27.71 Z" fill="none" stroke="#22a055" stroke-width="1.15" stroke-linejoin="miter"/>
<path d="M497.7 22.79 L504.1 22.79 L500.9 27.69 Z" fill="none" stroke="#22a055" stroke-width="1.15" stroke-linejoin="miter"/>
<path d="M502.11 22.79 L508.51 22.79 L505.31 27.69 Z" fill="none" stroke="#22a055" stroke-width="1.15" stroke-linejoin="miter"/>
<path d="M506.52 22.78 L512.92 22.78 L509.72 27.68 Z" fill="none" stroke="#22a055" stroke-width="1.15" stroke-linejoin="miter"/>
<path d="M510.93 22.78 L517.33 22.78 L514.13 27.68 Z" fill="none" stroke="#22a055" stroke-width="1.15" stroke-linejoin="miter"/>
<path d="M515.34 22.77 L521.74 22.77 L518.54 27.67 Z" fill="none" stroke="#22a055" stroke-width="1.15" stroke-linejoin="miter"/>
<path d="M342.1 155.5 L342.98 153.92 L343.86 152.34 L344.75 150.77 L345.63 149.19 L346.51 147.63 L347.39 146.06 L348.28 144.51 L349.16 142.95 L350.04 141.4 L350.92 139.85 L351.8 138.31 L352.69 136.77 L353.57 135.23 L354.45 133.7 L355.33 132.17 L356.22 130.65 L357.1 129.13 L357.98 127.61 L358.86 126.1 L359.74 124.59 L360.63 123.09 L361.51 121.59 L362.39 120.09 L363.27 118.59 L364.16 117.1 L365.04 115.61 L365.92 114.12 L366.8 112.64 L367.68 111.16 L368.57 109.68 L369.45 108.21 L370.33 106.75 L371.21 105.29 L372.1 103.83 L372.98 102.38 L373.86 100.94 L374.74 99.5 L375.62 98.07 L376.51 96.65 L377.39 95.23 L378.27 93.83 L379.15 92.42 L380.04 91.03 L380.92 89.64 L381.8 88.27 L382.68 86.89 L383.56 85.52 L384.45 84.16 L385.33 82.8 L386.21 81.45 L387.09 80.1 L387.98 78.76 L388.86 77.42 L389.74 76.08 L390.62 74.75 L391.5 73.41 L392.39 72.07 L393.27 70.75 L394.15 69.46 L395.03 68.19 L395.92 66.95 L396.8 65.72 L397.68 64.49 L398.56 63.28 L399.44 62.07 L400.33 60.87 L401.21 59.68 L402.09 58.5 L402.97 57.32 L403.86 56.16 L404.74 55 L405.62 53.86 L406.5 52.72 L407.38 51.59 L408.27 50.47 L409.15 49.36 L410.03 48.26 L410.91 47.17 L411.8 46.09 L412.68 45.01 L413.56 43.95 L414.44 42.88 L415.32 41.82 L416.21 40.77 L417.09 39.74 L417.97 38.73 L418.85 37.74 L419.74 36.78 L420.62 35.86 L421.5 34.97 L422.38 34.08 L423.26 33.17 L424.15 32.27 L425.03 31.43 L425.91 30.67 L426.79 30.03 L427.68 29.56 L428.56 29.18 L429.44 28.83 L430.32 28.52 L431.2 28.27 L432.09 28.09 L432.97 28.02 L433.85 27.99 L434.73 27.97 L435.62 27.95 L436.5 27.93 L437.38 27.91 L438.26 27.89 L439.14 27.88 L440.03 27.86 L440.91 27.84 L441.79 27.82 L442.67 27.8 L443.56 27.79 L444.44 27.77 L445.32 27.75 L446.2 27.74 L447.08 27.72 L447.97 27.71 L448.85 27.69 L449.73 27.68 L450.61 27.66 L451.5 27.65 L452.38 27.63 L453.26 27.62 L454.14 27.61 L455.02 27.59 L455.91 27.58 L456.79 27.57 L457.67 27.56 L458.55 27.55 L459.44 27.53 L460.32 27.52 L461.2 27.51 L462.08 27.5 L462.96 27.49 L463.85 27.48 L464.73 27.47 L465.61 27.46 L466.49 27.45 L467.38 27.44 L468.26 27.43 L469.14 27.43 L470.02 27.42 L470.9 27.41 L471.79 27.4 L472.67 27.39 L473.55 27.39 L474.43 27.38 L475.32 27.37 L476.2 27.37 L477.08 27.36 L477.96 27.35 L478.84 27.35 L479.73 27.34 L480.61 27.34 L481.49 27.33 L482.37 27.33 L483.26 27.32 L484.14 27.32 L485.02 27.31 L485.9 27.31 L486.78 27.3 L487.67 27.3 L488.55 27.3 L489.43 27.29 L490.31 27.29 L491.2 27.29 L492.08 27.28 L492.96 27.28 L493.84 27.28 L494.72 27.27 L495.61 27.27 L496.49 27.27 L497.37 27.27 L498.25 27.26 L499.14 27.26 L500.02 27.26 L500.9 27.26 L501.78 27.26 L502.66 27.25 L503.55 27.25 L504.43 27.25 L505.31 27.25 L506.19 27.25 L507.08 27.25 L507.96 27.25 L508.84 27.25 L509.72 27.25 L510.6 27.25 L511.49 27.25 L512.37 27.24 L513.25 27.24 L514.13 27.24 L515.02 27.24 L515.9 27.24 L516.78 27.24 L517.66 27.24 L518.54 27.24" fill="none" stroke="#22a055" stroke-width="1.5" stroke-linejoin="round"/>
</g>
<g clip-path="url(#cc)">
<circle cx="30.8" cy="393.4" r="2.9" fill="none" stroke="#424242" stroke-width="1.15"/>
<circle cx="35.22" cy="373.25" r="2.9" fill="none" stroke="#424242" stroke-width="1.15"/>
<circle cx="39.64" cy="355.11" r="2.9" fill="none" stroke="#424242" stroke-width="1.15"/>
<circle cx="44.05" cy="338.98" r="2.9" fill="none" stroke="#424242" stroke-width="1.15"/>
<circle cx="48.47" cy="324.2" r="2.9" fill="none" stroke="#424242" stroke-width="1.15"/>
<circle cx="52.89" cy="311.84" r="2.9" fill="none" stroke="#424242" stroke-width="1.15"/>
<circle cx="57.31" cy="300.15" r="2.9" fill="none" stroke="#424242" stroke-width="1.15"/>
<circle cx="61.72" cy="291.55" r="2.9" fill="none" stroke="#424242" stroke-width="1.15"/>
<circle cx="66.14" cy="283.76" r="2.9" fill="none" stroke="#424242" stroke-width="1.15"/>
<circle cx="70.56" cy="278.25" r="2.9" fill="none" stroke="#424242" stroke-width="1.15"/>
<circle cx="74.98" cy="274.62" r="2.9" fill="none" stroke="#424242" stroke-width="1.15"/>
<circle cx="79.4" cy="271.4" r="2.9" fill="none" stroke="#424242" stroke-width="1.15"/>
<circle cx="83.81" cy="269.65" r="2.9" fill="none" stroke="#424242" stroke-width="1.15"/>
<circle cx="88.23" cy="268.71" r="2.9" fill="none" stroke="#424242" stroke-width="1.15"/>
<circle cx="92.65" cy="268.26" r="2.9" fill="none" stroke="#424242" stroke-width="1.15"/>
<circle cx="97.07" cy="267.95" r="2.9" fill="none" stroke="#424242" stroke-width="1.15"/>
<circle cx="101.48" cy="267.77" r="2.9" fill="none" stroke="#424242" stroke-width="1.15"/>
<circle cx="105.9" cy="267.66" r="2.9" fill="none" stroke="#424242" stroke-width="1.15"/>
<circle cx="110.32" cy="267.55" r="2.9" fill="none" stroke="#424242" stroke-width="1.15"/>
<circle cx="114.74" cy="267.45" r="2.9" fill="none" stroke="#424242" stroke-width="1.15"/>
<circle cx="119.16" cy="267.35" r="2.9" fill="none" stroke="#424242" stroke-width="1.15"/>
<circle cx="123.57" cy="267.26" r="2.9" fill="none" stroke="#424242" stroke-width="1.15"/>
<circle cx="127.99" cy="267.17" r="2.9" fill="none" stroke="#424242" stroke-width="1.15"/>
<circle cx="132.41" cy="267.09" r="2.9" fill="none" stroke="#424242" stroke-width="1.15"/>
<circle cx="136.83" cy="267.01" r="2.9" fill="none" stroke="#424242" stroke-width="1.15"/>
<circle cx="141.24" cy="266.94" r="2.9" fill="none" stroke="#424242" stroke-width="1.15"/>
<circle cx="145.66" cy="266.87" r="2.9" fill="none" stroke="#424242" stroke-width="1.15"/>
<circle cx="150.08" cy="266.81" r="2.9" fill="none" stroke="#424242" stroke-width="1.15"/>
<circle cx="154.5" cy="266.75" r="2.9" fill="none" stroke="#424242" stroke-width="1.15"/>
<circle cx="158.92" cy="266.7" r="2.9" fill="none" stroke="#424242" stroke-width="1.15"/>
<circle cx="163.33" cy="266.65" r="2.9" fill="none" stroke="#424242" stroke-width="1.15"/>
<circle cx="167.75" cy="266.61" r="2.9" fill="none" stroke="#424242" stroke-width="1.15"/>
<circle cx="172.17" cy="266.57" r="2.9" fill="none" stroke="#424242" stroke-width="1.15"/>
<circle cx="176.59" cy="266.53" r="2.9" fill="none" stroke="#424242" stroke-width="1.15"/>
<circle cx="181" cy="266.51" r="2.9" fill="none" stroke="#424242" stroke-width="1.15"/>
<circle cx="185.42" cy="266.48" r="2.9" fill="none" stroke="#424242" stroke-width="1.15"/>
<circle cx="189.84" cy="266.46" r="2.9" fill="none" stroke="#424242" stroke-width="1.15"/>
<circle cx="194.26" cy="266.45" r="2.9" fill="none" stroke="#424242" stroke-width="1.15"/>
<circle cx="198.68" cy="266.44" r="2.9" fill="none" stroke="#424242" stroke-width="1.15"/>
<circle cx="203.09" cy="266.43" r="2.9" fill="none" stroke="#424242" stroke-width="1.15"/>
<circle cx="207.51" cy="266.43" r="2.9" fill="none" stroke="#424242" stroke-width="1.15"/>
<path d="M30.8 393.4 L31.68 388 L32.57 382.71 L33.45 377.53 L34.33 372.47 L35.22 367.52 L36.1 362.69 L36.98 357.96 L37.87 353.35 L38.75 348.85 L39.64 344.47 L40.52 340.2 L41.4 336.04 L42.29 331.99 L43.17 328.06 L44.05 324.24 L44.94 320.54 L45.82 316.94 L46.7 313.46 L47.59 310.09 L48.47 306.84 L49.35 303.7 L50.24 300.67 L51.12 297.76 L52.01 294.95 L52.89 292.26 L53.77 289.69 L54.66 287.22 L55.54 284.87 L56.42 282.64 L57.31 280.51 L58.19 278.5 L59.07 276.6 L59.96 274.82 L60.84 273.14 L61.72 271.58 L62.61 270.14 L63.49 268.8 L64.38 267.58 L65.26 266.48 L66.14 265.48 L67.03 264.6 L67.91 263.83 L68.79 263.18 L69.68 262.63 L70.56 262.2 L71.44 261.89 L72.33 261.68 L73.21 261.59 L74.09 261.58 L74.98 261.58 L75.86 261.57 L76.74 261.56 L77.63 261.55 L78.51 261.54 L79.4 261.54 L80.28 261.53 L81.16 261.52 L82.05 261.51 L82.93 261.5 L83.81 261.5 L84.7 261.49 L85.58 261.48 L86.46 261.47 L87.35 261.46 L88.23 261.46 L89.11 261.45 L90 261.44 L90.88 261.43 L91.77 261.42 L92.65 261.42 L93.53 261.41 L94.42 261.4 L95.3 261.39 L96.18 261.38 L97.07 261.38 L97.95 261.37 L98.83 261.36 L99.72 261.35 L100.6 261.34 L101.48 261.34 L102.37 261.33 L103.25 261.32 L104.14 261.31 L105.02 261.3 L105.9 261.3 L106.79 261.29 L107.67 261.28 L108.55 261.27 L109.44 261.26 L110.32 261.26 L111.2 261.25 L112.09 261.24 L112.97 261.23 L113.85 261.22 L114.74 261.22 L115.62 261.21 L116.5 261.2 L117.39 261.19 L118.27 261.19 L119.16 261.18 L120.04 261.17 L120.92 261.16 L121.81 261.15 L122.69 261.15 L123.57 261.14 L124.46 261.13 L125.34 261.12 L126.22 261.11 L127.11 261.11 L127.99 261.1 L128.87 261.09 L129.76 261.08 L130.64 261.07 L131.53 261.07 L132.41 261.06 L133.29 261.05 L134.18 261.04 L135.06 261.03 L135.94 261.03 L136.83 261.02 L137.71 261.01 L138.59 261 L139.48 260.99 L140.36 260.99 L141.24 260.98 L142.13 260.97 L143.01 260.96 L143.9 260.95 L144.78 260.95 L145.66 260.94 L146.55 260.93 L147.43 260.92 L148.31 260.91 L149.2 260.91 L150.08 260.9 L150.96 260.89 L151.85 260.88 L152.73 260.87 L153.61 260.87 L154.5 260.86 L155.38 260.85 L156.26 260.84 L157.15 260.83 L158.03 260.83 L158.92 260.82 L159.8 260.81 L160.68 260.8 L161.57 260.79 L162.45 260.79 L163.33 260.78 L164.22 260.77 L165.1 260.76 L165.98 260.75 L166.87 260.75 L167.75 260.74 L168.63 260.73 L169.52 260.72 L170.4 260.71 L171.29 260.71 L172.17 260.7 L173.05 260.69 L173.94 260.68 L174.82 260.67 L175.7 260.67 L176.59 260.66 L177.47 260.65 L178.35 260.64 L179.24 260.64 L180.12 260.63 L181 260.62 L181.89 260.61 L182.77 260.6 L183.66 260.6 L184.54 260.59 L185.42 260.58 L186.31 260.57 L187.19 260.56 L188.07 260.56 L188.96 260.55 L189.84 260.54 L190.72 260.53 L191.61 260.52 L192.49 260.52 L193.37 260.51 L194.26 260.5 L195.14 260.49 L196.02 260.48 L196.91 260.48 L197.79 260.47 L198.68 260.46 L199.56 260.45 L200.44 260.44 L201.33 260.44 L202.21 260.43 L203.09 260.42 L203.98 260.41 L204.86 260.4 L205.74 260.4 L206.63 260.39 L207.51 260.38" fill="none" stroke="#424242" stroke-width="1.5" stroke-linejoin="round"/>
</g>
<g clip-path="url(#cc)">
<rect x="28.3" y="390.9" width="5" height="5" fill="none" stroke="#f53232" stroke-width="1.15"/>
<rect x="32.72" y="377.46" width="5" height="5" fill="none" stroke="#f53232" stroke-width="1.15"/>
<rect x="37.14" y="365.37" width="5" height="5" fill="none" stroke="#f53232" stroke-width="1.15"/>
<rect x="41.55" y="356.1" width="5" height="5" fill="none" stroke="#f53232" stroke-width="1.15"/>
<rect x="45.97" y="347.1" width="5" height="5" fill="none" stroke="#f53232" stroke-width="1.15"/>
<rect x="50.39" y="339.84" width="5" height="5" fill="none" stroke="#f53232" stroke-width="1.15"/>
<rect x="54.81" y="331.78" width="5" height="5" fill="none" stroke="#f53232" stroke-width="1.15"/>
<rect x="59.22" y="326.41" width="5" height="5" fill="none" stroke="#f53232" stroke-width="1.15"/>
<rect x="63.64" y="321.7" width="5" height="5" fill="none" stroke="#f53232" stroke-width="1.15"/>
<rect x="68.06" y="319.02" width="5" height="5" fill="none" stroke="#f53232" stroke-width="1.15"/>
<rect x="72.48" y="316.6" width="5" height="5" fill="none" stroke="#f53232" stroke-width="1.15"/>
<rect x="76.9" y="315.25" width="5" height="5" fill="none" stroke="#f53232" stroke-width="1.15"/>
<rect x="81.31" y="314.22" width="5" height="5" fill="none" stroke="#f53232" stroke-width="1.15"/>
<rect x="85.73" y="313.64" width="5" height="5" fill="none" stroke="#f53232" stroke-width="1.15"/>
<rect x="90.15" y="313.53" width="5" height="5" fill="none" stroke="#f53232" stroke-width="1.15"/>
<rect x="94.57" y="313.43" width="5" height="5" fill="none" stroke="#f53232" stroke-width="1.15"/>
<rect x="98.98" y="313.33" width="5" height="5" fill="none" stroke="#f53232" stroke-width="1.15"/>
<rect x="103.4" y="313.24" width="5" height="5" fill="none" stroke="#f53232" stroke-width="1.15"/>
<rect x="107.82" y="313.15" width="5" height="5" fill="none" stroke="#f53232" stroke-width="1.15"/>
<rect x="112.24" y="313.07" width="5" height="5" fill="none" stroke="#f53232" stroke-width="1.15"/>
<rect x="116.66" y="313" width="5" height="5" fill="none" stroke="#f53232" stroke-width="1.15"/>
<rect x="121.07" y="312.93" width="5" height="5" fill="none" stroke="#f53232" stroke-width="1.15"/>
<rect x="125.49" y="312.87" width="5" height="5" fill="none" stroke="#f53232" stroke-width="1.15"/>
<rect x="129.91" y="312.81" width="5" height="5" fill="none" stroke="#f53232" stroke-width="1.15"/>
<rect x="134.33" y="312.76" width="5" height="5" fill="none" stroke="#f53232" stroke-width="1.15"/>
<rect x="138.74" y="312.71" width="5" height="5" fill="none" stroke="#f53232" stroke-width="1.15"/>
<rect x="143.16" y="312.67" width="5" height="5" fill="none" stroke="#f53232" stroke-width="1.15"/>
<rect x="147.58" y="312.63" width="5" height="5" fill="none" stroke="#f53232" stroke-width="1.15"/>
<rect x="152" y="312.6" width="5" height="5" fill="none" stroke="#f53232" stroke-width="1.15"/>
<rect x="156.42" y="312.57" width="5" height="5" fill="none" stroke="#f53232" stroke-width="1.15"/>
<rect x="160.83" y="312.54" width="5" height="5" fill="none" stroke="#f53232" stroke-width="1.15"/>
<rect x="165.25" y="312.52" width="5" height="5" fill="none" stroke="#f53232" stroke-width="1.15"/>
<rect x="169.67" y="312.5" width="5" height="5" fill="none" stroke="#f53232" stroke-width="1.15"/>
<rect x="174.09" y="312.48" width="5" height="5" fill="none" stroke="#f53232" stroke-width="1.15"/>
<rect x="178.5" y="312.47" width="5" height="5" fill="none" stroke="#f53232" stroke-width="1.15"/>
<rect x="182.92" y="312.45" width="5" height="5" fill="none" stroke="#f53232" stroke-width="1.15"/>
<rect x="187.34" y="312.45" width="5" height="5" fill="none" stroke="#f53232" stroke-width="1.15"/>
<rect x="191.76" y="312.44" width="5" height="5" fill="none" stroke="#f53232" stroke-width="1.15"/>
<rect x="196.18" y="312.43" width="5" height="5" fill="none" stroke="#f53232" stroke-width="1.15"/>
<rect x="200.59" y="312.43" width="5" height="5" fill="none" stroke="#f53232" stroke-width="1.15"/>
<rect x="205.01" y="312.43" width="5" height="5" fill="none" stroke="#f53232" stroke-width="1.15"/>
<path d="M30.8 393.4 L31.68 390.21 L32.57 387.08 L33.45 384.02 L34.33 381.02 L35.22 378.08 L36.1 375.21 L36.98 372.41 L37.87 369.67 L38.75 366.99 L39.64 364.38 L40.52 361.83 L41.4 359.35 L42.29 356.93 L43.17 354.57 L44.05 352.28 L44.94 350.06 L45.82 347.9 L46.7 345.8 L47.59 343.77 L48.47 341.8 L49.35 339.9 L50.24 338.06 L51.12 336.29 L52.01 334.58 L52.89 332.94 L53.77 331.36 L54.66 329.84 L55.54 328.39 L56.42 327 L57.31 325.68 L58.19 324.42 L59.07 323.23 L59.96 322.1 L60.84 321.04 L61.72 320.04 L62.61 319.1 L63.49 318.23 L64.38 317.43 L65.26 316.68 L66.14 316.01 L67.03 315.39 L67.91 314.85 L68.79 314.36 L69.68 313.94 L70.56 313.59 L71.44 313.3 L72.33 313.07 L73.21 312.91 L74.09 312.81 L74.98 312.78 L75.86 312.78 L76.74 312.77 L77.63 312.77 L78.51 312.76 L79.4 312.76 L80.28 312.75 L81.16 312.75 L82.05 312.75 L82.93 312.74 L83.81 312.74 L84.7 312.73 L85.58 312.73 L86.46 312.72 L87.35 312.72 L88.23 312.71 L89.11 312.71 L90 312.71 L90.88 312.7 L91.77 312.7 L92.65 312.69 L93.53 312.69 L94.42 312.68 L95.3 312.68 L96.18 312.67 L97.07 312.67 L97.95 312.67 L98.83 312.66 L99.72 312.66 L100.6 312.65 L101.48 312.65 L102.37 312.64 L103.25 312.64 L104.14 312.63 L105.02 312.63 L105.9 312.63 L106.79 312.62 L107.67 312.62 L108.55 312.61 L109.44 312.61 L110.32 312.6 L111.2 312.6 L112.09 312.59 L112.97 312.59 L113.85 312.58 L114.74 312.58 L115.62 312.58 L116.5 312.57 L117.39 312.57 L118.27 312.56 L119.16 312.56 L120.04 312.55 L120.92 312.55 L121.81 312.54 L122.69 312.54 L123.57 312.54 L124.46 312.53 L125.34 312.53 L126.22 312.52 L127.11 312.52 L127.99 312.51 L128.87 312.51 L129.76 312.5 L130.64 312.5 L131.53 312.5 L132.41 312.49 L133.29 312.49 L134.18 312.48 L135.06 312.48 L135.94 312.47 L136.83 312.47 L137.71 312.46 L138.59 312.46 L139.48 312.45 L140.36 312.45 L141.24 312.45 L142.13 312.44 L143.01 312.44 L143.9 312.43 L144.78 312.43 L145.66 312.42 L146.55 312.42 L147.43 312.41 L148.31 312.41 L149.2 312.41 L150.08 312.4 L150.96 312.4 L151.85 312.39 L152.73 312.39 L153.61 312.38 L154.5 312.38 L155.38 312.37 L156.26 312.37 L157.15 312.37 L158.03 312.36 L158.92 312.36 L159.8 312.35 L160.68 312.35 L161.57 312.34 L162.45 312.34 L163.33 312.33 L164.22 312.33 L165.1 312.32 L165.98 312.32 L166.87 312.32 L167.75 312.31 L168.63 312.31 L169.52 312.3 L170.4 312.3 L171.29 312.29 L172.17 312.29 L173.05 312.28 L173.94 312.28 L174.82 312.28 L175.7 312.27 L176.59 312.27 L177.47 312.26 L178.35 312.26 L179.24 312.25 L180.12 312.25 L181 312.24 L181.89 312.24 L182.77 312.24 L183.66 312.23 L184.54 312.23 L185.42 312.22 L186.31 312.22 L187.19 312.21 L188.07 312.21 L188.96 312.2 L189.84 312.2 L190.72 312.2 L191.61 312.19 L192.49 312.19 L193.37 312.18 L194.26 312.18 L195.14 312.17 L196.02 312.17 L196.91 312.16 L197.79 312.16 L198.68 312.15 L199.56 312.15 L200.44 312.15 L201.33 312.14 L202.21 312.14 L203.09 312.13 L203.98 312.13 L204.86 312.12 L205.74 312.12 L206.63 312.11 L207.51 312.11" fill="none" stroke="#f53232" stroke-width="1.5" stroke-linejoin="round"/>
</g>
<g clip-path="url(#cc)">
<path d="M27.6 395.16 L34 395.16 L30.8 390.26 Z" fill="none" stroke="#1766e6" stroke-width="1.15" stroke-linejoin="miter"/>
<path d="M32.02 385.55 L38.42 385.55 L35.22 380.65 Z" fill="none" stroke="#1766e6" stroke-width="1.15" stroke-linejoin="miter"/>
<path d="M36.44 376.89 L42.84 376.89 L39.64 371.99 Z" fill="none" stroke="#1766e6" stroke-width="1.15" stroke-linejoin="miter"/>
<path d="M40.85 369.18 L47.25 369.18 L44.05 364.28 Z" fill="none" stroke="#1766e6" stroke-width="1.15" stroke-linejoin="miter"/>
<path d="M45.27 362.42 L51.67 362.42 L48.47 357.52 Z" fill="none" stroke="#1766e6" stroke-width="1.15" stroke-linejoin="miter"/>
<path d="M49.69 356.61 L56.09 356.61 L52.89 351.71 Z" fill="none" stroke="#1766e6" stroke-width="1.15" stroke-linejoin="miter"/>
<path d="M54.11 351.76 L60.51 351.76 L57.31 346.86 Z" fill="none" stroke="#1766e6" stroke-width="1.15" stroke-linejoin="miter"/>
<path d="M58.52 347.86 L64.92 347.86 L61.72 342.96 Z" fill="none" stroke="#1766e6" stroke-width="1.15" stroke-linejoin="miter"/>
<path d="M62.94 344.9 L69.34 344.9 L66.14 340 Z" fill="none" stroke="#1766e6" stroke-width="1.15" stroke-linejoin="miter"/>
<path d="M67.36 342.91 L73.76 342.91 L70.56 338.01 Z" fill="none" stroke="#1766e6" stroke-width="1.15" stroke-linejoin="miter"/>
<path d="M71.78 341.86 L78.18 341.86 L74.98 336.96 Z" fill="none" stroke="#1766e6" stroke-width="1.15" stroke-linejoin="miter"/>
<path d="M76.2 341.69 L82.6 341.69 L79.4 336.79 Z" fill="none" stroke="#1766e6" stroke-width="1.15" stroke-linejoin="miter"/>
<path d="M80.61 341.69 L87.01 341.69 L83.81 336.79 Z" fill="none" stroke="#1766e6" stroke-width="1.15" stroke-linejoin="miter"/>
<path d="M85.03 341.69 L91.43 341.69 L88.23 336.79 Z" fill="none" stroke="#1766e6" stroke-width="1.15" stroke-linejoin="miter"/>
<path d="M89.45 341.69 L95.85 341.69 L92.65 336.79 Z" fill="none" stroke="#1766e6" stroke-width="1.15" stroke-linejoin="miter"/>
<path d="M93.87 341.69 L100.27 341.69 L97.07 336.79 Z" fill="none" stroke="#1766e6" stroke-width="1.15" stroke-linejoin="miter"/>
<path d="M98.28 341.69 L104.68 341.69 L101.48 336.79 Z" fill="none" stroke="#1766e6" stroke-width="1.15" stroke-linejoin="miter"/>
<path d="M102.7 341.69 L109.1 341.69 L105.9 336.79 Z" fill="none" stroke="#1766e6" stroke-width="1.15" stroke-linejoin="miter"/>
<path d="M107.12 341.69 L113.52 341.69 L110.32 336.79 Z" fill="none" stroke="#1766e6" stroke-width="1.15" stroke-linejoin="miter"/>
<path d="M111.54 341.69 L117.94 341.69 L114.74 336.79 Z" fill="none" stroke="#1766e6" stroke-width="1.15" stroke-linejoin="miter"/>
<path d="M115.96 341.69 L122.36 341.69 L119.16 336.79 Z" fill="none" stroke="#1766e6" stroke-width="1.15" stroke-linejoin="miter"/>
<path d="M120.37 341.69 L126.77 341.69 L123.57 336.79 Z" fill="none" stroke="#1766e6" stroke-width="1.15" stroke-linejoin="miter"/>
<path d="M124.79 341.69 L131.19 341.69 L127.99 336.79 Z" fill="none" stroke="#1766e6" stroke-width="1.15" stroke-linejoin="miter"/>
<path d="M129.21 341.69 L135.61 341.69 L132.41 336.79 Z" fill="none" stroke="#1766e6" stroke-width="1.15" stroke-linejoin="miter"/>
<path d="M133.63 341.69 L140.03 341.69 L136.83 336.79 Z" fill="none" stroke="#1766e6" stroke-width="1.15" stroke-linejoin="miter"/>
<path d="M138.04 341.69 L144.44 341.69 L141.24 336.79 Z" fill="none" stroke="#1766e6" stroke-width="1.15" stroke-linejoin="miter"/>
<path d="M142.46 341.69 L148.86 341.69 L145.66 336.79 Z" fill="none" stroke="#1766e6" stroke-width="1.15" stroke-linejoin="miter"/>
<path d="M146.88 341.69 L153.28 341.69 L150.08 336.79 Z" fill="none" stroke="#1766e6" stroke-width="1.15" stroke-linejoin="miter"/>
<path d="M151.3 341.69 L157.7 341.69 L154.5 336.79 Z" fill="none" stroke="#1766e6" stroke-width="1.15" stroke-linejoin="miter"/>
<path d="M155.72 341.69 L162.12 341.69 L158.92 336.79 Z" fill="none" stroke="#1766e6" stroke-width="1.15" stroke-linejoin="miter"/>
<path d="M160.13 341.69 L166.53 341.69 L163.33 336.79 Z" fill="none" stroke="#1766e6" stroke-width="1.15" stroke-linejoin="miter"/>
<path d="M164.55 341.69 L170.95 341.69 L167.75 336.79 Z" fill="none" stroke="#1766e6" stroke-width="1.15" stroke-linejoin="miter"/>
<path d="M168.97 341.69 L175.37 341.69 L172.17 336.79 Z" fill="none" stroke="#1766e6" stroke-width="1.15" stroke-linejoin="miter"/>
<path d="M173.39 341.69 L179.79 341.69 L176.59 336.79 Z" fill="none" stroke="#1766e6" stroke-width="1.15" stroke-linejoin="miter"/>
<path d="M177.8 341.69 L184.2 341.69 L181 336.79 Z" fill="none" stroke="#1766e6" stroke-width="1.15" stroke-linejoin="miter"/>
<path d="M182.22 341.69 L188.62 341.69 L185.42 336.79 Z" fill="none" stroke="#1766e6" stroke-width="1.15" stroke-linejoin="miter"/>
<path d="M186.64 341.69 L193.04 341.69 L189.84 336.79 Z" fill="none" stroke="#1766e6" stroke-width="1.15" stroke-linejoin="miter"/>
<path d="M191.06 341.69 L197.46 341.69 L194.26 336.79 Z" fill="none" stroke="#1766e6" stroke-width="1.15" stroke-linejoin="miter"/>
<path d="M195.48 341.69 L201.88 341.69 L198.68 336.79 Z" fill="none" stroke="#1766e6" stroke-width="1.15" stroke-linejoin="miter"/>
<path d="M199.89 341.69 L206.29 341.69 L203.09 336.79 Z" fill="none" stroke="#1766e6" stroke-width="1.15" stroke-linejoin="miter"/>
<path d="M204.31 341.69 L210.71 341.69 L207.51 336.79 Z" fill="none" stroke="#1766e6" stroke-width="1.15" stroke-linejoin="miter"/>
<path d="M30.8 393.4 L31.68 391.26 L32.57 389.16 L33.45 387.1 L34.33 385.09 L35.22 383.13 L36.1 381.21 L36.98 379.34 L37.87 377.51 L38.75 375.73 L39.64 373.99 L40.52 372.3 L41.4 370.65 L42.29 369.05 L43.17 367.49 L44.05 365.98 L44.94 364.51 L45.82 363.09 L46.7 361.71 L47.59 360.38 L48.47 359.1 L49.35 357.85 L50.24 356.66 L51.12 355.51 L52.01 354.4 L52.89 353.34 L53.77 352.32 L54.66 351.35 L55.54 350.43 L56.42 349.55 L57.31 348.71 L58.19 347.92 L59.07 347.18 L59.96 346.48 L60.84 345.82 L61.72 345.22 L62.61 344.65 L63.49 344.13 L64.38 343.66 L65.26 343.23 L66.14 342.85 L67.03 342.51 L67.91 342.21 L68.79 341.97 L69.68 341.76 L70.56 341.6 L71.44 341.49 L72.33 341.42 L73.21 341.4 L74.09 341.4 L74.98 341.4 L75.86 341.4 L76.74 341.39 L77.63 341.39 L78.51 341.39 L79.4 341.39 L80.28 341.39 L81.16 341.39 L82.05 341.38 L82.93 341.38 L83.81 341.38 L84.7 341.38 L85.58 341.38 L86.46 341.37 L87.35 341.37 L88.23 341.37 L89.11 341.37 L90 341.37 L90.88 341.37 L91.77 341.36 L92.65 341.36 L93.53 341.36 L94.42 341.36 L95.3 341.36 L96.18 341.36 L97.07 341.35 L97.95 341.35 L98.83 341.35 L99.72 341.35 L100.6 341.35 L101.48 341.34 L102.37 341.34 L103.25 341.34 L104.14 341.34 L105.02 341.34 L105.9 341.34 L106.79 341.33 L107.67 341.33 L108.55 341.33 L109.44 341.33 L110.32 341.33 L111.2 341.33 L112.09 341.32 L112.97 341.32 L113.85 341.32 L114.74 341.32 L115.62 341.32 L116.5 341.31 L117.39 341.31 L118.27 341.31 L119.16 341.31 L120.04 341.31 L120.92 341.31 L121.81 341.3 L122.69 341.3 L123.57 341.3 L124.46 341.3 L125.34 341.3 L126.22 341.3 L127.11 341.29 L127.99 341.29 L128.87 341.29 L129.76 341.29 L130.64 341.29 L131.53 341.28 L132.41 341.28 L133.29 341.28 L134.18 341.28 L135.06 341.28 L135.94 341.28 L136.83 341.27 L137.71 341.27 L138.59 341.27 L139.48 341.27 L140.36 341.27 L141.24 341.27 L142.13 341.26 L143.01 341.26 L143.9 341.26 L144.78 341.26 L145.66 341.26 L146.55 341.25 L147.43 341.25 L148.31 341.25 L149.2 341.25 L150.08 341.25 L150.96 341.25 L151.85 341.24 L152.73 341.24 L153.61 341.24 L154.5 341.24 L155.38 341.24 L156.26 341.24 L157.15 341.23 L158.03 341.23 L158.92 341.23 L159.8 341.23 L160.68 341.23 L161.57 341.22 L162.45 341.22 L163.33 341.22 L164.22 341.22 L165.1 341.22 L165.98 341.22 L166.87 341.21 L167.75 341.21 L168.63 341.21 L169.52 341.21 L170.4 341.21 L171.29 341.21 L172.17 341.2 L173.05 341.2 L173.94 341.2 L174.82 341.2 L175.7 341.2 L176.59 341.19 L177.47 341.19 L178.35 341.19 L179.24 341.19 L180.12 341.19 L181 341.19 L181.89 341.18 L182.77 341.18 L183.66 341.18 L184.54 341.18 L185.42 341.18 L186.31 341.17 L187.19 341.17 L188.07 341.17 L188.96 341.17 L189.84 341.17 L190.72 341.17 L191.61 341.16 L192.49 341.16 L193.37 341.16 L194.26 341.16 L195.14 341.16 L196.02 341.16 L196.91 341.15 L197.79 341.15 L198.68 341.15 L199.56 341.15 L200.44 341.15 L201.33 341.14 L202.21 341.14 L203.09 341.14 L203.98 341.14 L204.86 341.14 L205.74 341.14 L206.63 341.13 L207.51 341.13" fill="none" stroke="#1766e6" stroke-width="1.5" stroke-linejoin="round"/>
</g>
<g clip-path="url(#cc)">
<path d="M27.6 391.64 L34 391.64 L30.8 396.54 Z" fill="none" stroke="#22a055" stroke-width="1.15" stroke-linejoin="miter"/>
<path d="M32.02 382.75 L38.42 382.75 L35.22 387.65 Z" fill="none" stroke="#22a055" stroke-width="1.15" stroke-linejoin="miter"/>
<path d="M36.44 374.74 L42.84 374.74 L39.64 379.64 Z" fill="none" stroke="#22a055" stroke-width="1.15" stroke-linejoin="miter"/>
<path d="M40.85 367.61 L47.25 367.61 L44.05 372.51 Z" fill="none" stroke="#22a055" stroke-width="1.15" stroke-linejoin="miter"/>
<path d="M45.27 361.36 L51.67 361.36 L48.47 366.26 Z" fill="none" stroke="#22a055" stroke-width="1.15" stroke-linejoin="miter"/>
<path d="M49.69 355.99 L56.09 355.99 L52.89 360.89 Z" fill="none" stroke="#22a055" stroke-width="1.15" stroke-linejoin="miter"/>
<path d="M54.11 351.5 L60.51 351.5 L57.31 356.4 Z" fill="none" stroke="#22a055" stroke-width="1.15" stroke-linejoin="miter"/>
<path d="M58.52 347.89 L64.92 347.89 L61.72 352.79 Z" fill="none" stroke="#22a055" stroke-width="1.15" stroke-linejoin="miter"/>
<path d="M62.94 345.17 L69.34 345.17 L66.14 350.07 Z" fill="none" stroke="#22a055" stroke-width="1.15" stroke-linejoin="miter"/>
<path d="M67.36 343.32 L73.76 343.32 L70.56 348.22 Z" fill="none" stroke="#22a055" stroke-width="1.15" stroke-linejoin="miter"/>
<path d="M71.78 342.35 L78.18 342.35 L74.98 347.25 Z" fill="none" stroke="#22a055" stroke-width="1.15" stroke-linejoin="miter"/>
<path d="M76.2 342.19 L82.6 342.19 L79.4 347.09 Z" fill="none" stroke="#22a055" stroke-width="1.15" stroke-linejoin="miter"/>
<path d="M80.61 342.18 L87.01 342.18 L83.81 347.08 Z" fill="none" stroke="#22a055" stroke-width="1.15" stroke-linejoin="miter"/>
<path d="M85.03 342.17 L91.43 342.17 L88.23 347.07 Z" fill="none" stroke="#22a055" stroke-width="1.15" stroke-linejoin="miter"/>
<path d="M89.45 342.16 L95.85 342.16 L92.65 347.06 Z" fill="none" stroke="#22a055" stroke-width="1.15" stroke-linejoin="miter"/>
<path d="M93.87 342.15 L100.27 342.15 L97.07 347.05 Z" fill="none" stroke="#22a055" stroke-width="1.15" stroke-linejoin="miter"/>
<path d="M98.28 342.14 L104.68 342.14 L101.48 347.04 Z" fill="none" stroke="#22a055" stroke-width="1.15" stroke-linejoin="miter"/>
<path d="M102.7 342.13 L109.1 342.13 L105.9 347.03 Z" fill="none" stroke="#22a055" stroke-width="1.15" stroke-linejoin="miter"/>
<path d="M107.12 342.12 L113.52 342.12 L110.32 347.02 Z" fill="none" stroke="#22a055" stroke-width="1.15" stroke-linejoin="miter"/>
<path d="M111.54 342.11 L117.94 342.11 L114.74 347.01 Z" fill="none" stroke="#22a055" stroke-width="1.15" stroke-linejoin="miter"/>
<path d="M115.96 342.1 L122.36 342.1 L119.16 347 Z" fill="none" stroke="#22a055" stroke-width="1.15" stroke-linejoin="miter"/>
<path d="M120.37 342.1 L126.77 342.1 L123.57 347 Z" fill="none" stroke="#22a055" stroke-width="1.15" stroke-linejoin="miter"/>
<path d="M124.79 342.09 L131.19 342.09 L127.99 346.99 Z" fill="none" stroke="#22a055" stroke-width="1.15" stroke-linejoin="miter"/>
<path d="M129.21 342.08 L135.61 342.08 L132.41 346.98 Z" fill="none" stroke="#22a055" stroke-width="1.15" stroke-linejoin="miter"/>
<path d="M133.63 342.07 L140.03 342.07 L136.83 346.97 Z" fill="none" stroke="#22a055" stroke-width="1.15" stroke-linejoin="miter"/>
<path d="M138.04 342.06 L144.44 342.06 L141.24 346.96 Z" fill="none" stroke="#22a055" stroke-width="1.15" stroke-linejoin="miter"/>
<path d="M142.46 342.05 L148.86 342.05 L145.66 346.95 Z" fill="none" stroke="#22a055" stroke-width="1.15" stroke-linejoin="miter"/>
<path d="M146.88 342.04 L153.28 342.04 L150.08 346.94 Z" fill="none" stroke="#22a055" stroke-width="1.15" stroke-linejoin="miter"/>
<path d="M151.3 342.03 L157.7 342.03 L154.5 346.93 Z" fill="none" stroke="#22a055" stroke-width="1.15" stroke-linejoin="miter"/>
<path d="M155.72 342.02 L162.12 342.02 L158.92 346.92 Z" fill="none" stroke="#22a055" stroke-width="1.15" stroke-linejoin="miter"/>
<path d="M160.13 342.01 L166.53 342.01 L163.33 346.91 Z" fill="none" stroke="#22a055" stroke-width="1.15" stroke-linejoin="miter"/>
<path d="M164.55 342 L170.95 342 L167.75 346.9 Z" fill="none" stroke="#22a055" stroke-width="1.15" stroke-linejoin="miter"/>
<path d="M168.97 341.99 L175.37 341.99 L172.17 346.89 Z" fill="none" stroke="#22a055" stroke-width="1.15" stroke-linejoin="miter"/>
<path d="M173.39 341.99 L179.79 341.99 L176.59 346.89 Z" fill="none" stroke="#22a055" stroke-width="1.15" stroke-linejoin="miter"/>
<path d="M177.8 341.98 L184.2 341.98 L181 346.88 Z" fill="none" stroke="#22a055" stroke-width="1.15" stroke-linejoin="miter"/>
<path d="M182.22 341.97 L188.62 341.97 L185.42 346.87 Z" fill="none" stroke="#22a055" stroke-width="1.15" stroke-linejoin="miter"/>
<path d="M186.64 341.96 L193.04 341.96 L189.84 346.86 Z" fill="none" stroke="#22a055" stroke-width="1.15" stroke-linejoin="miter"/>
<path d="M191.06 341.95 L197.46 341.95 L194.26 346.85 Z" fill="none" stroke="#22a055" stroke-width="1.15" stroke-linejoin="miter"/>
<path d="M195.48 341.94 L201.88 341.94 L198.68 346.84 Z" fill="none" stroke="#22a055" stroke-width="1.15" stroke-linejoin="miter"/>
<path d="M199.89 341.93 L206.29 341.93 L203.09 346.83 Z" fill="none" stroke="#22a055" stroke-width="1.15" stroke-linejoin="miter"/>
<path d="M204.31 341.92 L210.71 341.92 L207.51 346.82 Z" fill="none" stroke="#22a055" stroke-width="1.15" stroke-linejoin="miter"/>
<path d="M30.8 393.4 L31.68 391.36 L32.57 389.35 L33.45 387.4 L34.33 385.48 L35.22 383.61 L36.1 381.78 L36.98 379.99 L37.87 378.25 L38.75 376.55 L39.64 374.89 L40.52 373.28 L41.4 371.71 L42.29 370.18 L43.17 368.7 L44.05 367.25 L44.94 365.86 L45.82 364.5 L46.7 363.19 L47.59 361.92 L48.47 360.69 L49.35 359.51 L50.24 358.37 L51.12 357.27 L52.01 356.21 L52.89 355.2 L53.77 354.24 L54.66 353.31 L55.54 352.43 L56.42 351.59 L57.31 350.79 L58.19 350.04 L59.07 349.33 L59.96 348.66 L60.84 348.04 L61.72 347.46 L62.61 346.92 L63.49 346.42 L64.38 345.97 L65.26 345.56 L66.14 345.2 L67.03 344.87 L67.91 344.59 L68.79 344.36 L69.68 344.16 L70.56 344.01 L71.44 343.91 L72.33 343.84 L73.21 343.82 L74.09 343.82 L74.98 343.82 L75.86 343.81 L76.74 343.81 L77.63 343.81 L78.51 343.81 L79.4 343.81 L80.28 343.81 L81.16 343.8 L82.05 343.8 L82.93 343.8 L83.81 343.8 L84.7 343.8 L85.58 343.8 L86.46 343.79 L87.35 343.79 L88.23 343.79 L89.11 343.79 L90 343.79 L90.88 343.78 L91.77 343.78 L92.65 343.78 L93.53 343.78 L94.42 343.78 L95.3 343.78 L96.18 343.77 L97.07 343.77 L97.95 343.77 L98.83 343.77 L99.72 343.77 L100.6 343.77 L101.48 343.76 L102.37 343.76 L103.25 343.76 L104.14 343.76 L105.02 343.76 L105.9 343.75 L106.79 343.75 L107.67 343.75 L108.55 343.75 L109.44 343.75 L110.32 343.75 L111.2 343.74 L112.09 343.74 L112.97 343.74 L113.85 343.74 L114.74 343.74 L115.62 343.73 L116.5 343.73 L117.39 343.73 L118.27 343.73 L119.16 343.73 L120.04 343.73 L120.92 343.72 L121.81 343.72 L122.69 343.72 L123.57 343.72 L124.46 343.72 L125.34 343.72 L126.22 343.71 L127.11 343.71 L127.99 343.71 L128.87 343.71 L129.76 343.71 L130.64 343.7 L131.53 343.7 L132.41 343.7 L133.29 343.7 L134.18 343.7 L135.06 343.7 L135.94 343.69 L136.83 343.69 L137.71 343.69 L138.59 343.69 L139.48 343.69 L140.36 343.69 L141.24 343.68 L142.13 343.68 L143.01 343.68 L143.9 343.68 L144.78 343.68 L145.66 343.67 L146.55 343.67 L147.43 343.67 L148.31 343.67 L149.2 343.67 L150.08 343.67 L150.96 343.66 L151.85 343.66 L152.73 343.66 L153.61 343.66 L154.5 343.66 L155.38 343.66 L156.26 343.65 L157.15 343.65 L158.03 343.65 L158.92 343.65 L159.8 343.65 L160.68 343.64 L161.57 343.64 L162.45 343.64 L163.33 343.64 L164.22 343.64 L165.1 343.64 L165.98 343.63 L166.87 343.63 L167.75 343.63 L168.63 343.63 L169.52 343.63 L170.4 343.63 L171.29 343.62 L172.17 343.62 L173.05 343.62 L173.94 343.62 L174.82 343.62 L175.7 343.61 L176.59 343.61 L177.47 343.61 L178.35 343.61 L179.24 343.61 L180.12 343.61 L181 343.6 L181.89 343.6 L182.77 343.6 L183.66 343.6 L184.54 343.6 L185.42 343.6 L186.31 343.59 L187.19 343.59 L188.07 343.59 L188.96 343.59 L189.84 343.59 L190.72 343.58 L191.61 343.58 L192.49 343.58 L193.37 343.58 L194.26 343.58 L195.14 343.58 L196.02 343.57 L196.91 343.57 L197.79 343.57 L198.68 343.57 L199.56 343.57 L200.44 343.57 L201.33 343.56 L202.21 343.56 L203.09 343.56 L203.98 343.56 L204.86 343.56 L205.74 343.55 L206.63 343.55 L207.51 343.55" fill="none" stroke="#22a055" stroke-width="1.5" stroke-linejoin="round"/>
</g>
<g clip-path="url(#cc)">
<path d="M27.5 393.4 L30.8 390.1 L34.1 393.4 L30.8 396.7 Z" fill="none" stroke="#a566e2" stroke-width="1.15"/>
<path d="M31.92 385.33 L35.22 382.03 L38.52 385.33 L35.22 388.63 Z" fill="none" stroke="#a566e2" stroke-width="1.15"/>
<path d="M36.34 378.06 L39.64 374.76 L42.94 378.06 L39.64 381.36 Z" fill="none" stroke="#a566e2" stroke-width="1.15"/>
<path d="M40.75 371.59 L44.05 368.29 L47.35 371.59 L44.05 374.89 Z" fill="none" stroke="#a566e2" stroke-width="1.15"/>
<path d="M45.17 365.92 L48.47 362.62 L51.77 365.92 L48.47 369.22 Z" fill="none" stroke="#a566e2" stroke-width="1.15"/>
<path d="M49.59 361.05 L52.89 357.75 L56.19 361.05 L52.89 364.35 Z" fill="none" stroke="#a566e2" stroke-width="1.15"/>
<path d="M54.01 356.97 L57.31 353.67 L60.61 356.97 L57.31 360.27 Z" fill="none" stroke="#a566e2" stroke-width="1.15"/>
<path d="M58.42 353.7 L61.72 350.4 L65.02 353.7 L61.72 357 Z" fill="none" stroke="#a566e2" stroke-width="1.15"/>
<path d="M62.84 351.22 L66.14 347.92 L69.44 351.22 L66.14 354.52 Z" fill="none" stroke="#a566e2" stroke-width="1.15"/>
<path d="M67.26 349.55 L70.56 346.25 L73.86 349.55 L70.56 352.85 Z" fill="none" stroke="#a566e2" stroke-width="1.15"/>
<path d="M71.68 348.67 L74.98 345.37 L78.28 348.67 L74.98 351.97 Z" fill="none" stroke="#a566e2" stroke-width="1.15"/>
<path d="M76.1 348.51 L79.4 345.21 L82.7 348.51 L79.4 351.81 Z" fill="none" stroke="#a566e2" stroke-width="1.15"/>
<path d="M80.51 348.49 L83.81 345.19 L87.11 348.49 L83.81 351.79 Z" fill="none" stroke="#a566e2" stroke-width="1.15"/>
<path d="M84.93 348.47 L88.23 345.17 L91.53 348.47 L88.23 351.77 Z" fill="none" stroke="#a566e2" stroke-width="1.15"/>
<path d="M89.35 348.44 L92.65 345.14 L95.95 348.44 L92.65 351.74 Z" fill="none" stroke="#a566e2" stroke-width="1.15"/>
<path d="M93.77 348.42 L97.07 345.12 L100.37 348.42 L97.07 351.72 Z" fill="none" stroke="#a566e2" stroke-width="1.15"/>
<path d="M98.18 348.4 L101.48 345.1 L104.78 348.4 L101.48 351.7 Z" fill="none" stroke="#a566e2" stroke-width="1.15"/>
<path d="M102.6 348.38 L105.9 345.08 L109.2 348.38 L105.9 351.68 Z" fill="none" stroke="#a566e2" stroke-width="1.15"/>
<path d="M107.02 348.35 L110.32 345.05 L113.62 348.35 L110.32 351.65 Z" fill="none" stroke="#a566e2" stroke-width="1.15"/>
<path d="M111.44 348.33 L114.74 345.03 L118.04 348.33 L114.74 351.63 Z" fill="none" stroke="#a566e2" stroke-width="1.15"/>
<path d="M115.86 348.31 L119.16 345.01 L122.46 348.31 L119.16 351.61 Z" fill="none" stroke="#a566e2" stroke-width="1.15"/>
<path d="M120.27 348.28 L123.57 344.98 L126.87 348.28 L123.57 351.58 Z" fill="none" stroke="#a566e2" stroke-width="1.15"/>
<path d="M124.69 348.26 L127.99 344.96 L131.29 348.26 L127.99 351.56 Z" fill="none" stroke="#a566e2" stroke-width="1.15"/>
<path d="M129.11 348.24 L132.41 344.94 L135.71 348.24 L132.41 351.54 Z" fill="none" stroke="#a566e2" stroke-width="1.15"/>
<path d="M133.53 348.22 L136.83 344.92 L140.13 348.22 L136.83 351.52 Z" fill="none" stroke="#a566e2" stroke-width="1.15"/>
<path d="M137.94 348.19 L141.24 344.89 L144.54 348.19 L141.24 351.49 Z" fill="none" stroke="#a566e2" stroke-width="1.15"/>
<path d="M142.36 348.17 L145.66 344.87 L148.96 348.17 L145.66 351.47 Z" fill="none" stroke="#a566e2" stroke-width="1.15"/>
<path d="M146.78 348.15 L150.08 344.85 L153.38 348.15 L150.08 351.45 Z" fill="none" stroke="#a566e2" stroke-width="1.15"/>
<path d="M151.2 348.12 L154.5 344.82 L157.8 348.12 L154.5 351.42 Z" fill="none" stroke="#a566e2" stroke-width="1.15"/>
<path d="M155.62 348.1 L158.92 344.8 L162.22 348.1 L158.92 351.4 Z" fill="none" stroke="#a566e2" stroke-width="1.15"/>
<path d="M160.03 348.08 L163.33 344.78 L166.63 348.08 L163.33 351.38 Z" fill="none" stroke="#a566e2" stroke-width="1.15"/>
<path d="M164.45 348.06 L167.75 344.76 L171.05 348.06 L167.75 351.36 Z" fill="none" stroke="#a566e2" stroke-width="1.15"/>
<path d="M168.87 348.03 L172.17 344.73 L175.47 348.03 L172.17 351.33 Z" fill="none" stroke="#a566e2" stroke-width="1.15"/>
<path d="M173.29 348.01 L176.59 344.71 L179.89 348.01 L176.59 351.31 Z" fill="none" stroke="#a566e2" stroke-width="1.15"/>
<path d="M177.7 347.99 L181 344.69 L184.3 347.99 L181 351.29 Z" fill="none" stroke="#a566e2" stroke-width="1.15"/>
<path d="M182.12 347.96 L185.42 344.66 L188.72 347.96 L185.42 351.26 Z" fill="none" stroke="#a566e2" stroke-width="1.15"/>
<path d="M186.54 347.94 L189.84 344.64 L193.14 347.94 L189.84 351.24 Z" fill="none" stroke="#a566e2" stroke-width="1.15"/>
<path d="M190.96 347.92 L194.26 344.62 L197.56 347.92 L194.26 351.22 Z" fill="none" stroke="#a566e2" stroke-width="1.15"/>
<path d="M195.38 347.9 L198.68 344.6 L201.98 347.9 L198.68 351.2 Z" fill="none" stroke="#a566e2" stroke-width="1.15"/>
<path d="M199.79 347.87 L203.09 344.57 L206.39 347.87 L203.09 351.17 Z" fill="none" stroke="#a566e2" stroke-width="1.15"/>
<path d="M204.21 347.85 L207.51 344.55 L210.81 347.85 L207.51 351.15 Z" fill="none" stroke="#a566e2" stroke-width="1.15"/>
<path d="M30.8 393.4 L31.68 391.49 L32.57 389.62 L33.45 387.79 L34.33 386 L35.22 384.25 L36.1 382.54 L36.98 380.87 L37.87 379.24 L38.75 377.65 L39.64 376.1 L40.52 374.59 L41.4 373.12 L42.29 371.69 L43.17 370.3 L44.05 368.95 L44.94 367.65 L45.82 366.38 L46.7 365.15 L47.59 363.97 L48.47 362.82 L49.35 361.71 L50.24 360.65 L51.12 359.62 L52.01 358.63 L52.89 357.69 L53.77 356.78 L54.66 355.92 L55.54 355.09 L56.42 354.31 L57.31 353.56 L58.19 352.86 L59.07 352.2 L59.96 351.57 L60.84 350.99 L61.72 350.44 L62.61 349.94 L63.49 349.48 L64.38 349.06 L65.26 348.67 L66.14 348.33 L67.03 348.03 L67.91 347.77 L68.79 347.55 L69.68 347.37 L70.56 347.23 L71.44 347.13 L72.33 347.06 L73.21 347.04 L74.09 347.04 L74.98 347.04 L75.86 347.04 L76.74 347.04 L77.63 347.04 L78.51 347.03 L79.4 347.03 L80.28 347.03 L81.16 347.03 L82.05 347.03 L82.93 347.03 L83.81 347.02 L84.7 347.02 L85.58 347.02 L86.46 347.02 L87.35 347.02 L88.23 347.01 L89.11 347.01 L90 347.01 L90.88 347.01 L91.77 347.01 L92.65 347.01 L93.53 347 L94.42 347 L95.3 347 L96.18 347 L97.07 347 L97.95 347 L98.83 346.99 L99.72 346.99 L100.6 346.99 L101.48 346.99 L102.37 346.99 L103.25 346.98 L104.14 346.98 L105.02 346.98 L105.9 346.98 L106.79 346.98 L107.67 346.98 L108.55 346.97 L109.44 346.97 L110.32 346.97 L111.2 346.97 L112.09 346.97 L112.97 346.96 L113.85 346.96 L114.74 346.96 L115.62 346.96 L116.5 346.96 L117.39 346.96 L118.27 346.95 L119.16 346.95 L120.04 346.95 L120.92 346.95 L121.81 346.95 L122.69 346.95 L123.57 346.94 L124.46 346.94 L125.34 346.94 L126.22 346.94 L127.11 346.94 L127.99 346.93 L128.87 346.93 L129.76 346.93 L130.64 346.93 L131.53 346.93 L132.41 346.93 L133.29 346.92 L134.18 346.92 L135.06 346.92 L135.94 346.92 L136.83 346.92 L137.71 346.92 L138.59 346.91 L139.48 346.91 L140.36 346.91 L141.24 346.91 L142.13 346.91 L143.01 346.9 L143.9 346.9 L144.78 346.9 L145.66 346.9 L146.55 346.9 L147.43 346.9 L148.31 346.89 L149.2 346.89 L150.08 346.89 L150.96 346.89 L151.85 346.89 L152.73 346.89 L153.61 346.88 L154.5 346.88 L155.38 346.88 L156.26 346.88 L157.15 346.88 L158.03 346.87 L158.92 346.87 L159.8 346.87 L160.68 346.87 L161.57 346.87 L162.45 346.87 L163.33 346.86 L164.22 346.86 L165.1 346.86 L165.98 346.86 L166.87 346.86 L167.75 346.86 L168.63 346.85 L169.52 346.85 L170.4 346.85 L171.29 346.85 L172.17 346.85 L173.05 346.84 L173.94 346.84 L174.82 346.84 L175.7 346.84 L176.59 346.84 L177.47 346.84 L178.35 346.83 L179.24 346.83 L180.12 346.83 L181 346.83 L181.89 346.83 L182.77 346.83 L183.66 346.82 L184.54 346.82 L185.42 346.82 L186.31 346.82 L187.19 346.82 L188.07 346.81 L188.96 346.81 L189.84 346.81 L190.72 346.81 L191.61 346.81 L192.49 346.81 L193.37 346.8 L194.26 346.8 L195.14 346.8 L196.02 346.8 L196.91 346.8 L197.79 346.8 L198.68 346.79 L199.56 346.79 L200.44 346.79 L201.33 346.79 L202.21 346.79 L203.09 346.78 L203.98 346.78 L204.86 346.78 L205.74 346.78 L206.63 346.78 L207.51 346.78" fill="none" stroke="#a566e2" stroke-width="1.5" stroke-linejoin="round"/>
</g>
<g clip-path="url(#cd)">
<circle cx="342.1" cy="393.4" r="2.9" fill="none" stroke="#424242" stroke-width="1.15"/>
<circle cx="346.51" cy="371.81" r="2.9" fill="none" stroke="#424242" stroke-width="1.15"/>
<circle cx="350.92" cy="351.14" r="2.9" fill="none" stroke="#424242" stroke-width="1.15"/>
<circle cx="355.33" cy="334.43" r="2.9" fill="none" stroke="#424242" stroke-width="1.15"/>
<circle cx="359.74" cy="319.89" r="2.9" fill="none" stroke="#424242" stroke-width="1.15"/>
<circle cx="364.16" cy="308.3" r="2.9" fill="none" stroke="#424242" stroke-width="1.15"/>
<circle cx="368.57" cy="297.39" r="2.9" fill="none" stroke="#424242" stroke-width="1.15"/>
<circle cx="372.98" cy="289.21" r="2.9" fill="none" stroke="#424242" stroke-width="1.15"/>
<circle cx="377.39" cy="282.85" r="2.9" fill="none" stroke="#424242" stroke-width="1.15"/>
<circle cx="381.8" cy="278.42" r="2.9" fill="none" stroke="#424242" stroke-width="1.15"/>
<circle cx="386.21" cy="275.24" r="2.9" fill="none" stroke="#424242" stroke-width="1.15"/>
<circle cx="390.62" cy="272.97" r="2.9" fill="none" stroke="#424242" stroke-width="1.15"/>
<circle cx="395.03" cy="271.15" r="2.9" fill="none" stroke="#424242" stroke-width="1.15"/>
<circle cx="399.44" cy="269.79" r="2.9" fill="none" stroke="#424242" stroke-width="1.15"/>
<circle cx="403.86" cy="269.29" r="2.9" fill="none" stroke="#424242" stroke-width="1.15"/>
<circle cx="408.27" cy="268.91" r="2.9" fill="none" stroke="#424242" stroke-width="1.15"/>
<circle cx="412.68" cy="268.6" r="2.9" fill="none" stroke="#424242" stroke-width="1.15"/>
<circle cx="417.09" cy="268.36" r="2.9" fill="none" stroke="#424242" stroke-width="1.15"/>
<circle cx="421.5" cy="268.17" r="2.9" fill="none" stroke="#424242" stroke-width="1.15"/>
<circle cx="425.91" cy="268.01" r="2.9" fill="none" stroke="#424242" stroke-width="1.15"/>
<circle cx="430.32" cy="267.86" r="2.9" fill="none" stroke="#424242" stroke-width="1.15"/>
<circle cx="434.73" cy="267.7" r="2.9" fill="none" stroke="#424242" stroke-width="1.15"/>
<circle cx="439.14" cy="267.55" r="2.9" fill="none" stroke="#424242" stroke-width="1.15"/>
<circle cx="443.56" cy="267.4" r="2.9" fill="none" stroke="#424242" stroke-width="1.15"/>
<circle cx="447.97" cy="267.26" r="2.9" fill="none" stroke="#424242" stroke-width="1.15"/>
<circle cx="452.38" cy="267.12" r="2.9" fill="none" stroke="#424242" stroke-width="1.15"/>
<circle cx="456.79" cy="266.98" r="2.9" fill="none" stroke="#424242" stroke-width="1.15"/>
<circle cx="461.2" cy="266.85" r="2.9" fill="none" stroke="#424242" stroke-width="1.15"/>
<circle cx="465.61" cy="266.73" r="2.9" fill="none" stroke="#424242" stroke-width="1.15"/>
<circle cx="470.02" cy="266.61" r="2.9" fill="none" stroke="#424242" stroke-width="1.15"/>
<circle cx="474.43" cy="266.5" r="2.9" fill="none" stroke="#424242" stroke-width="1.15"/>
<circle cx="478.84" cy="266.4" r="2.9" fill="none" stroke="#424242" stroke-width="1.15"/>
<circle cx="483.26" cy="266.31" r="2.9" fill="none" stroke="#424242" stroke-width="1.15"/>
<circle cx="487.67" cy="266.22" r="2.9" fill="none" stroke="#424242" stroke-width="1.15"/>
<circle cx="492.08" cy="266.15" r="2.9" fill="none" stroke="#424242" stroke-width="1.15"/>
<circle cx="496.49" cy="266.08" r="2.9" fill="none" stroke="#424242" stroke-width="1.15"/>
<circle cx="500.9" cy="266.03" r="2.9" fill="none" stroke="#424242" stroke-width="1.15"/>
<circle cx="505.31" cy="265.98" r="2.9" fill="none" stroke="#424242" stroke-width="1.15"/>
<circle cx="509.72" cy="265.95" r="2.9" fill="none" stroke="#424242" stroke-width="1.15"/>
<circle cx="514.13" cy="265.93" r="2.9" fill="none" stroke="#424242" stroke-width="1.15"/>
<circle cx="518.54" cy="265.92" r="2.9" fill="none" stroke="#424242" stroke-width="1.15"/>
<path d="M342.1 393.4 L342.98 388.17 L343.86 383.04 L344.75 378.03 L345.63 373.12 L346.51 368.32 L347.39 363.62 L348.28 359.04 L349.16 354.56 L350.04 350.19 L350.92 345.93 L351.8 341.77 L352.69 337.73 L353.57 333.79 L354.45 329.96 L355.33 326.24 L356.22 322.62 L357.1 319.12 L357.98 315.72 L358.86 312.43 L359.74 309.25 L360.63 306.17 L361.51 303.2 L362.39 300.35 L363.27 297.59 L364.16 294.95 L365.04 292.42 L365.92 289.99 L366.8 287.67 L367.68 285.46 L368.57 283.35 L369.45 281.36 L370.33 279.47 L371.21 277.69 L372.1 276.02 L372.98 274.45 L373.86 273 L374.74 271.65 L375.62 270.41 L376.51 269.27 L377.39 268.25 L378.27 267.33 L379.15 266.52 L380.04 265.82 L380.92 265.23 L381.8 264.74 L382.68 264.36 L383.56 264.09 L384.45 263.93 L385.33 263.88 L386.21 263.88 L387.09 263.88 L387.98 263.87 L388.86 263.87 L389.74 263.87 L390.62 263.87 L391.5 263.87 L392.39 263.87 L393.27 263.86 L394.15 263.86 L395.03 263.86 L395.92 263.86 L396.8 263.86 L397.68 263.86 L398.56 263.86 L399.44 263.85 L400.33 263.85 L401.21 263.85 L402.09 263.85 L402.97 263.85 L403.86 263.85 L404.74 263.85 L405.62 263.84 L406.5 263.84 L407.38 263.84 L408.27 263.84 L409.15 263.84 L410.03 263.84 L410.91 263.83 L411.8 263.83 L412.68 263.83 L413.56 263.83 L414.44 263.83 L415.32 263.83 L416.21 263.83 L417.09 263.82 L417.97 263.82 L418.85 263.82 L419.74 263.82 L420.62 263.82 L421.5 263.82 L422.38 263.82 L423.26 263.81 L424.15 263.81 L425.03 263.81 L425.91 263.81 L426.79 263.81 L427.68 263.81 L428.56 263.8 L429.44 263.8 L430.32 263.8 L431.2 263.8 L432.09 263.8 L432.97 263.8 L433.85 263.8 L434.73 263.79 L435.62 263.79 L436.5 263.79 L437.38 263.79 L438.26 263.79 L439.14 263.79 L440.03 263.79 L440.91 263.78 L441.79 263.78 L442.67 263.78 L443.56 263.78 L444.44 263.78 L445.32 263.78 L446.2 263.77 L447.08 263.77 L447.97 263.77 L448.85 263.77 L449.73 263.77 L450.61 263.77 L451.5 263.77 L452.38 263.76 L453.26 263.76 L454.14 263.76 L455.02 263.76 L455.91 263.76 L456.79 263.76 L457.67 263.76 L458.55 263.75 L459.44 263.75 L460.32 263.75 L461.2 263.75 L462.08 263.75 L462.96 263.75 L463.85 263.74 L464.73 263.74 L465.61 263.74 L466.49 263.74 L467.38 263.74 L468.26 263.74 L469.14 263.74 L470.02 263.73 L470.9 263.73 L471.79 263.73 L472.67 263.73 L473.55 263.73 L474.43 263.73 L475.32 263.72 L476.2 263.72 L477.08 263.72 L477.96 263.72 L478.84 263.72 L479.73 263.72 L480.61 263.72 L481.49 263.71 L482.37 263.71 L483.26 263.71 L484.14 263.71 L485.02 263.71 L485.9 263.71 L486.78 263.71 L487.67 263.7 L488.55 263.7 L489.43 263.7 L490.31 263.7 L491.2 263.7 L492.08 263.7 L492.96 263.69 L493.84 263.69 L494.72 263.69 L495.61 263.69 L496.49 263.69 L497.37 263.69 L498.25 263.69 L499.14 263.68 L500.02 263.68 L500.9 263.68 L501.78 263.68 L502.66 263.68 L503.55 263.68 L504.43 263.68 L505.31 263.67 L506.19 263.67 L507.08 263.67 L507.96 263.67 L508.84 263.67 L509.72 263.67 L510.6 263.66 L511.49 263.66 L512.37 263.66 L513.25 263.66 L514.13 263.66 L515.02 263.66 L515.9 263.66 L516.78 263.65 L517.66 263.65 L518.54 263.65" fill="none" stroke="#424242" stroke-width="1.5" stroke-linejoin="round"/>
</g>
<g clip-path="url(#cd)">
<rect x="339.6" y="390.9" width="5" height="5" fill="none" stroke="#f53232" stroke-width="1.15"/>
<rect x="344.01" y="374.61" width="5" height="5" fill="none" stroke="#f53232" stroke-width="1.15"/>
<rect x="348.42" y="358.85" width="5" height="5" fill="none" stroke="#f53232" stroke-width="1.15"/>
<rect x="352.83" y="345.93" width="5" height="5" fill="none" stroke="#f53232" stroke-width="1.15"/>
<rect x="357.24" y="334.61" width="5" height="5" fill="none" stroke="#f53232" stroke-width="1.15"/>
<rect x="361.66" y="325.45" width="5" height="5" fill="none" stroke="#f53232" stroke-width="1.15"/>
<rect x="366.07" y="316.97" width="5" height="5" fill="none" stroke="#f53232" stroke-width="1.15"/>
<rect x="370.48" y="310.07" width="5" height="5" fill="none" stroke="#f53232" stroke-width="1.15"/>
<rect x="374.89" y="304.71" width="5" height="5" fill="none" stroke="#f53232" stroke-width="1.15"/>
<rect x="379.3" y="300.72" width="5" height="5" fill="none" stroke="#f53232" stroke-width="1.15"/>
<rect x="383.71" y="297.86" width="5" height="5" fill="none" stroke="#f53232" stroke-width="1.15"/>
<rect x="388.12" y="295.78" width="5" height="5" fill="none" stroke="#f53232" stroke-width="1.15"/>
<rect x="392.53" y="294.21" width="5" height="5" fill="none" stroke="#f53232" stroke-width="1.15"/>
<rect x="396.94" y="292.91" width="5" height="5" fill="none" stroke="#f53232" stroke-width="1.15"/>
<rect x="401.36" y="292.08" width="5" height="5" fill="none" stroke="#f53232" stroke-width="1.15"/>
<rect x="405.77" y="291.72" width="5" height="5" fill="none" stroke="#f53232" stroke-width="1.15"/>
<rect x="410.18" y="291.42" width="5" height="5" fill="none" stroke="#f53232" stroke-width="1.15"/>
<rect x="414.59" y="291.18" width="5" height="5" fill="none" stroke="#f53232" stroke-width="1.15"/>
<rect x="419" y="290.99" width="5" height="5" fill="none" stroke="#f53232" stroke-width="1.15"/>
<rect x="423.41" y="290.84" width="5" height="5" fill="none" stroke="#f53232" stroke-width="1.15"/>
<rect x="427.82" y="290.73" width="5" height="5" fill="none" stroke="#f53232" stroke-width="1.15"/>
<rect x="432.23" y="290.64" width="5" height="5" fill="none" stroke="#f53232" stroke-width="1.15"/>
<rect x="436.64" y="290.57" width="5" height="5" fill="none" stroke="#f53232" stroke-width="1.15"/>
<rect x="441.06" y="290.5" width="5" height="5" fill="none" stroke="#f53232" stroke-width="1.15"/>
<rect x="445.47" y="290.43" width="5" height="5" fill="none" stroke="#f53232" stroke-width="1.15"/>
<rect x="449.88" y="290.37" width="5" height="5" fill="none" stroke="#f53232" stroke-width="1.15"/>
<rect x="454.29" y="290.31" width="5" height="5" fill="none" stroke="#f53232" stroke-width="1.15"/>
<rect x="458.7" y="290.26" width="5" height="5" fill="none" stroke="#f53232" stroke-width="1.15"/>
<rect x="463.11" y="290.21" width="5" height="5" fill="none" stroke="#f53232" stroke-width="1.15"/>
<rect x="467.52" y="290.16" width="5" height="5" fill="none" stroke="#f53232" stroke-width="1.15"/>
<rect x="471.93" y="290.11" width="5" height="5" fill="none" stroke="#f53232" stroke-width="1.15"/>
<rect x="476.34" y="290.07" width="5" height="5" fill="none" stroke="#f53232" stroke-width="1.15"/>
<rect x="480.76" y="290.04" width="5" height="5" fill="none" stroke="#f53232" stroke-width="1.15"/>
<rect x="485.17" y="290.01" width="5" height="5" fill="none" stroke="#f53232" stroke-width="1.15"/>
<rect x="489.58" y="289.98" width="5" height="5" fill="none" stroke="#f53232" stroke-width="1.15"/>
<rect x="493.99" y="289.95" width="5" height="5" fill="none" stroke="#f53232" stroke-width="1.15"/>
<rect x="498.4" y="289.93" width="5" height="5" fill="none" stroke="#f53232" stroke-width="1.15"/>
<rect x="502.81" y="289.92" width="5" height="5" fill="none" stroke="#f53232" stroke-width="1.15"/>
<rect x="507.22" y="289.91" width="5" height="5" fill="none" stroke="#f53232" stroke-width="1.15"/>
<rect x="511.63" y="289.9" width="5" height="5" fill="none" stroke="#f53232" stroke-width="1.15"/>
<rect x="516.04" y="289.9" width="5" height="5" fill="none" stroke="#f53232" stroke-width="1.15"/>
<path d="M342.1 393.4 L342.98 389.04 L343.86 384.77 L344.75 380.6 L345.63 376.52 L346.51 372.54 L347.39 368.66 L348.28 364.87 L349.16 361.18 L350.04 357.58 L350.92 354.08 L351.8 350.68 L352.69 347.37 L353.57 344.16 L354.45 341.04 L355.33 338.02 L356.22 335.09 L357.1 332.27 L357.98 329.53 L358.86 326.9 L359.74 324.35 L360.63 321.91 L361.51 319.56 L362.39 317.31 L363.27 315.15 L364.16 313.09 L365.04 311.12 L365.92 309.25 L366.8 307.48 L367.68 305.8 L368.57 304.22 L369.45 302.73 L370.33 301.34 L371.21 300.04 L372.1 298.85 L372.98 297.74 L373.86 296.74 L374.74 295.83 L375.62 295.01 L376.51 294.29 L377.39 293.67 L378.27 293.14 L379.15 292.71 L380.04 292.37 L380.92 292.13 L381.8 291.99 L382.68 291.94 L383.56 291.93 L384.45 291.92 L385.33 291.91 L386.21 291.91 L387.09 291.9 L387.98 291.89 L388.86 291.88 L389.74 291.87 L390.62 291.86 L391.5 291.85 L392.39 291.84 L393.27 291.84 L394.15 291.83 L395.03 291.82 L395.92 291.81 L396.8 291.8 L397.68 291.79 L398.56 291.78 L399.44 291.77 L400.33 291.76 L401.21 291.76 L402.09 291.75 L402.97 291.74 L403.86 291.73 L404.74 291.72 L405.62 291.71 L406.5 291.7 L407.38 291.69 L408.27 291.68 L409.15 291.68 L410.03 291.67 L410.91 291.66 L411.8 291.65 L412.68 291.64 L413.56 291.63 L414.44 291.62 L415.32 291.61 L416.21 291.61 L417.09 291.6 L417.97 291.59 L418.85 291.58 L419.74 291.57 L420.62 291.56 L421.5 291.55 L422.38 291.54 L423.26 291.53 L424.15 291.53 L425.03 291.52 L425.91 291.51 L426.79 291.5 L427.68 291.49 L428.56 291.48 L429.44 291.47 L430.32 291.46 L431.2 291.45 L432.09 291.45 L432.97 291.44 L433.85 291.43 L434.73 291.42 L435.62 291.41 L436.5 291.4 L437.38 291.39 L438.26 291.38 L439.14 291.37 L440.03 291.37 L440.91 291.36 L441.79 291.35 L442.67 291.34 L443.56 291.33 L444.44 291.32 L445.32 291.31 L446.2 291.3 L447.08 291.3 L447.97 291.29 L448.85 291.28 L449.73 291.27 L450.61 291.26 L451.5 291.25 L452.38 291.24 L453.26 291.23 L454.14 291.22 L455.02 291.22 L455.91 291.21 L456.79 291.2 L457.67 291.19 L458.55 291.18 L459.44 291.17 L460.32 291.16 L461.2 291.15 L462.08 291.14 L462.96 291.14 L463.85 291.13 L464.73 291.12 L465.61 291.11 L466.49 291.1 L467.38 291.09 L468.26 291.08 L469.14 291.07 L470.02 291.06 L470.9 291.06 L471.79 291.05 L472.67 291.04 L473.55 291.03 L474.43 291.02 L475.32 291.01 L476.2 291 L477.08 290.99 L477.96 290.99 L478.84 290.98 L479.73 290.97 L480.61 290.96 L481.49 290.95 L482.37 290.94 L483.26 290.93 L484.14 290.92 L485.02 290.91 L485.9 290.91 L486.78 290.9 L487.67 290.89 L488.55 290.88 L489.43 290.87 L490.31 290.86 L491.2 290.85 L492.08 290.84 L492.96 290.83 L493.84 290.83 L494.72 290.82 L495.61 290.81 L496.49 290.8 L497.37 290.79 L498.25 290.78 L499.14 290.77 L500.02 290.76 L500.9 290.76 L501.78 290.75 L502.66 290.74 L503.55 290.73 L504.43 290.72 L505.31 290.71 L506.19 290.7 L507.08 290.69 L507.96 290.68 L508.84 290.68 L509.72 290.67 L510.6 290.66 L511.49 290.65 L512.37 290.64 L513.25 290.63 L514.13 290.62 L515.02 290.61 L515.9 290.6 L516.78 290.6 L517.66 290.59 L518.54 290.58" fill="none" stroke="#f53232" stroke-width="1.5" stroke-linejoin="round"/>
</g>
<g clip-path="url(#cd)">
<path d="M338.9 395.16 L345.3 395.16 L342.1 390.26 Z" fill="none" stroke="#1766e6" stroke-width="1.15" stroke-linejoin="miter"/>
<path d="M343.31 379.94 L349.71 379.94 L346.51 375.04 Z" fill="none" stroke="#1766e6" stroke-width="1.15" stroke-linejoin="miter"/>
<path d="M347.72 365.18 L354.12 365.18 L350.92 360.28 Z" fill="none" stroke="#1766e6" stroke-width="1.15" stroke-linejoin="miter"/>
<path d="M352.13 353.04 L358.53 353.04 L355.33 348.14 Z" fill="none" stroke="#1766e6" stroke-width="1.15" stroke-linejoin="miter"/>
<path d="M356.54 342.42 L362.94 342.42 L359.74 337.52 Z" fill="none" stroke="#1766e6" stroke-width="1.15" stroke-linejoin="miter"/>
<path d="M360.96 333.77 L367.36 333.77 L364.16 328.87 Z" fill="none" stroke="#1766e6" stroke-width="1.15" stroke-linejoin="miter"/>
<path d="M365.37 325.84 L371.77 325.84 L368.57 320.94 Z" fill="none" stroke="#1766e6" stroke-width="1.15" stroke-linejoin="miter"/>
<path d="M369.78 319.26 L376.18 319.26 L372.98 314.36 Z" fill="none" stroke="#1766e6" stroke-width="1.15" stroke-linejoin="miter"/>
<path d="M374.19 314.18 L380.59 314.18 L377.39 309.28 Z" fill="none" stroke="#1766e6" stroke-width="1.15" stroke-linejoin="miter"/>
<path d="M378.6 310.33 L385 310.33 L381.8 305.43 Z" fill="none" stroke="#1766e6" stroke-width="1.15" stroke-linejoin="miter"/>
<path d="M383.01 307.59 L389.41 307.59 L386.21 302.69 Z" fill="none" stroke="#1766e6" stroke-width="1.15" stroke-linejoin="miter"/>
<path d="M387.42 305.58 L393.82 305.58 L390.62 300.68 Z" fill="none" stroke="#1766e6" stroke-width="1.15" stroke-linejoin="miter"/>
<path d="M391.83 304.08 L398.23 304.08 L395.03 299.18 Z" fill="none" stroke="#1766e6" stroke-width="1.15" stroke-linejoin="miter"/>
<path d="M396.24 302.85 L402.64 302.85 L399.44 297.95 Z" fill="none" stroke="#1766e6" stroke-width="1.15" stroke-linejoin="miter"/>
<path d="M400.66 301.96 L407.06 301.96 L403.86 297.06 Z" fill="none" stroke="#1766e6" stroke-width="1.15" stroke-linejoin="miter"/>
<path d="M405.07 301.62 L411.47 301.62 L408.27 296.72 Z" fill="none" stroke="#1766e6" stroke-width="1.15" stroke-linejoin="miter"/>
<path d="M409.48 301.33 L415.88 301.33 L412.68 296.43 Z" fill="none" stroke="#1766e6" stroke-width="1.15" stroke-linejoin="miter"/>
<path d="M413.89 301.09 L420.29 301.09 L417.09 296.19 Z" fill="none" stroke="#1766e6" stroke-width="1.15" stroke-linejoin="miter"/>
<path d="M418.3 300.91 L424.7 300.91 L421.5 296.01 Z" fill="none" stroke="#1766e6" stroke-width="1.15" stroke-linejoin="miter"/>
<path d="M422.71 300.76 L429.11 300.76 L425.91 295.86 Z" fill="none" stroke="#1766e6" stroke-width="1.15" stroke-linejoin="miter"/>
<path d="M427.12 300.65 L433.52 300.65 L430.32 295.75 Z" fill="none" stroke="#1766e6" stroke-width="1.15" stroke-linejoin="miter"/>
<path d="M431.53 300.57 L437.93 300.57 L434.73 295.67 Z" fill="none" stroke="#1766e6" stroke-width="1.15" stroke-linejoin="miter"/>
<path d="M435.94 300.51 L442.34 300.51 L439.14 295.61 Z" fill="none" stroke="#1766e6" stroke-width="1.15" stroke-linejoin="miter"/>
<path d="M440.36 300.45 L446.76 300.45 L443.56 295.55 Z" fill="none" stroke="#1766e6" stroke-width="1.15" stroke-linejoin="miter"/>
<path d="M444.77 300.4 L451.17 300.4 L447.97 295.5 Z" fill="none" stroke="#1766e6" stroke-width="1.15" stroke-linejoin="miter"/>
<path d="M449.18 300.34 L455.58 300.34 L452.38 295.44 Z" fill="none" stroke="#1766e6" stroke-width="1.15" stroke-linejoin="miter"/>
<path d="M453.59 300.3 L459.99 300.3 L456.79 295.4 Z" fill="none" stroke="#1766e6" stroke-width="1.15" stroke-linejoin="miter"/>
<path d="M458 300.25 L464.4 300.25 L461.2 295.35 Z" fill="none" stroke="#1766e6" stroke-width="1.15" stroke-linejoin="miter"/>
<path d="M462.41 300.21 L468.81 300.21 L465.61 295.31 Z" fill="none" stroke="#1766e6" stroke-width="1.15" stroke-linejoin="miter"/>
<path d="M466.82 300.17 L473.22 300.17 L470.02 295.27 Z" fill="none" stroke="#1766e6" stroke-width="1.15" stroke-linejoin="miter"/>
<path d="M471.23 300.13 L477.63 300.13 L474.43 295.23 Z" fill="none" stroke="#1766e6" stroke-width="1.15" stroke-linejoin="miter"/>
<path d="M475.64 300.1 L482.04 300.1 L478.84 295.2 Z" fill="none" stroke="#1766e6" stroke-width="1.15" stroke-linejoin="miter"/>
<path d="M480.06 300.07 L486.46 300.07 L483.26 295.17 Z" fill="none" stroke="#1766e6" stroke-width="1.15" stroke-linejoin="miter"/>
<path d="M484.47 300.04 L490.87 300.04 L487.67 295.14 Z" fill="none" stroke="#1766e6" stroke-width="1.15" stroke-linejoin="miter"/>
<path d="M488.88 300.02 L495.28 300.02 L492.08 295.12 Z" fill="none" stroke="#1766e6" stroke-width="1.15" stroke-linejoin="miter"/>
<path d="M493.29 300 L499.69 300 L496.49 295.1 Z" fill="none" stroke="#1766e6" stroke-width="1.15" stroke-linejoin="miter"/>
<path d="M497.7 299.98 L504.1 299.98 L500.9 295.08 Z" fill="none" stroke="#1766e6" stroke-width="1.15" stroke-linejoin="miter"/>
<path d="M502.11 299.97 L508.51 299.97 L505.31 295.07 Z" fill="none" stroke="#1766e6" stroke-width="1.15" stroke-linejoin="miter"/>
<path d="M506.52 299.96 L512.92 299.96 L509.72 295.06 Z" fill="none" stroke="#1766e6" stroke-width="1.15" stroke-linejoin="miter"/>
<path d="M510.93 299.96 L517.33 299.96 L514.13 295.06 Z" fill="none" stroke="#1766e6" stroke-width="1.15" stroke-linejoin="miter"/>
<path d="M515.34 299.95 L521.74 299.95 L518.54 295.05 Z" fill="none" stroke="#1766e6" stroke-width="1.15" stroke-linejoin="miter"/>
<path d="M342.1 393.4 L342.98 389.47 L343.86 385.62 L344.75 381.86 L345.63 378.19 L346.51 374.6 L347.39 371.1 L348.28 367.68 L349.16 364.35 L350.04 361.11 L350.92 357.96 L351.8 354.89 L352.69 351.91 L353.57 349.01 L354.45 346.2 L355.33 343.48 L356.22 340.84 L357.1 338.29 L357.98 335.83 L358.86 333.45 L359.74 331.16 L360.63 328.95 L361.51 326.84 L362.39 324.8 L363.27 322.86 L364.16 321 L365.04 319.23 L365.92 317.54 L366.8 315.94 L367.68 314.43 L368.57 313 L369.45 311.66 L370.33 310.41 L371.21 309.24 L372.1 308.16 L372.98 307.17 L373.86 306.26 L374.74 305.44 L375.62 304.71 L376.51 304.06 L377.39 303.5 L378.27 303.02 L379.15 302.63 L380.04 302.33 L380.92 302.11 L381.8 301.98 L382.68 301.94 L383.56 301.93 L384.45 301.93 L385.33 301.92 L386.21 301.92 L387.09 301.91 L387.98 301.91 L388.86 301.9 L389.74 301.9 L390.62 301.89 L391.5 301.89 L392.39 301.88 L393.27 301.88 L394.15 301.87 L395.03 301.87 L395.92 301.86 L396.8 301.86 L397.68 301.85 L398.56 301.85 L399.44 301.84 L400.33 301.84 L401.21 301.83 L402.09 301.83 L402.97 301.82 L403.86 301.82 L404.74 301.81 L405.62 301.81 L406.5 301.8 L407.38 301.8 L408.27 301.79 L409.15 301.78 L410.03 301.78 L410.91 301.77 L411.8 301.77 L412.68 301.76 L413.56 301.76 L414.44 301.75 L415.32 301.75 L416.21 301.74 L417.09 301.74 L417.97 301.73 L418.85 301.73 L419.74 301.72 L420.62 301.72 L421.5 301.71 L422.38 301.71 L423.26 301.7 L424.15 301.7 L425.03 301.69 L425.91 301.69 L426.79 301.68 L427.68 301.68 L428.56 301.67 L429.44 301.67 L430.32 301.66 L431.2 301.66 L432.09 301.65 L432.97 301.65 L433.85 301.64 L434.73 301.63 L435.62 301.63 L436.5 301.62 L437.38 301.62 L438.26 301.61 L439.14 301.61 L440.03 301.6 L440.91 301.6 L441.79 301.59 L442.67 301.59 L443.56 301.58 L444.44 301.58 L445.32 301.57 L446.2 301.57 L447.08 301.56 L447.97 301.56 L448.85 301.55 L449.73 301.55 L450.61 301.54 L451.5 301.54 L452.38 301.53 L453.26 301.53 L454.14 301.52 L455.02 301.52 L455.91 301.51 L456.79 301.51 L457.67 301.5 L458.55 301.5 L459.44 301.49 L460.32 301.49 L461.2 301.48 L462.08 301.47 L462.96 301.47 L463.85 301.46 L464.73 301.46 L465.61 301.45 L466.49 301.45 L467.38 301.44 L468.26 301.44 L469.14 301.43 L470.02 301.43 L470.9 301.42 L471.79 301.42 L472.67 301.41 L473.55 301.41 L474.43 301.4 L475.32 301.4 L476.2 301.39 L477.08 301.39 L477.96 301.38 L478.84 301.38 L479.73 301.37 L480.61 301.37 L481.49 301.36 L482.37 301.36 L483.26 301.35 L484.14 301.35 L485.02 301.34 L485.9 301.34 L486.78 301.33 L487.67 301.33 L488.55 301.32 L489.43 301.31 L490.31 301.31 L491.2 301.3 L492.08 301.3 L492.96 301.29 L493.84 301.29 L494.72 301.28 L495.61 301.28 L496.49 301.27 L497.37 301.27 L498.25 301.26 L499.14 301.26 L500.02 301.25 L500.9 301.25 L501.78 301.24 L502.66 301.24 L503.55 301.23 L504.43 301.23 L505.31 301.22 L506.19 301.22 L507.08 301.21 L507.96 301.21 L508.84 301.2 L509.72 301.2 L510.6 301.19 L511.49 301.19 L512.37 301.18 L513.25 301.18 L514.13 301.17 L515.02 301.16 L515.9 301.16 L516.78 301.15 L517.66 301.15 L518.54 301.14" fill="none" stroke="#1766e6" stroke-width="1.5" stroke-linejoin="round"/>
</g>
<g clip-path="url(#cd)">
<path d="M338.9 391.64 L345.3 391.64 L342.1 396.54 Z" fill="none" stroke="#22a055" stroke-width="1.15" stroke-linejoin="miter"/>
<path d="M343.31 378.73 L349.71 378.73 L346.51 383.63 Z" fill="none" stroke="#22a055" stroke-width="1.15" stroke-linejoin="miter"/>
<path d="M347.72 366.18 L354.12 366.18 L350.92 371.08 Z" fill="none" stroke="#22a055" stroke-width="1.15" stroke-linejoin="miter"/>
<path d="M352.13 355.8 L358.53 355.8 L355.33 360.7 Z" fill="none" stroke="#22a055" stroke-width="1.15" stroke-linejoin="miter"/>
<path d="M356.54 346.72 L362.94 346.72 L359.74 351.62 Z" fill="none" stroke="#22a055" stroke-width="1.15" stroke-linejoin="miter"/>
<path d="M360.96 339.26 L367.36 339.26 L364.16 344.16 Z" fill="none" stroke="#22a055" stroke-width="1.15" stroke-linejoin="miter"/>
<path d="M365.37 332.52 L371.77 332.52 L368.57 337.42 Z" fill="none" stroke="#22a055" stroke-width="1.15" stroke-linejoin="miter"/>
<path d="M369.78 326.74 L376.18 326.74 L372.98 331.64 Z" fill="none" stroke="#22a055" stroke-width="1.15" stroke-linejoin="miter"/>
<path d="M374.19 322.3 L380.59 322.3 L377.39 327.2 Z" fill="none" stroke="#22a055" stroke-width="1.15" stroke-linejoin="miter"/>
<path d="M378.6 318.86 L385 318.86 L381.8 323.76 Z" fill="none" stroke="#22a055" stroke-width="1.15" stroke-linejoin="miter"/>
<path d="M383.01 316.41 L389.41 316.41 L386.21 321.31 Z" fill="none" stroke="#22a055" stroke-width="1.15" stroke-linejoin="miter"/>
<path d="M387.42 314.59 L393.82 314.59 L390.62 319.49 Z" fill="none" stroke="#22a055" stroke-width="1.15" stroke-linejoin="miter"/>
<path d="M391.83 313.25 L398.23 313.25 L395.03 318.15 Z" fill="none" stroke="#22a055" stroke-width="1.15" stroke-linejoin="miter"/>
<path d="M396.24 312.16 L402.64 312.16 L399.44 317.06 Z" fill="none" stroke="#22a055" stroke-width="1.15" stroke-linejoin="miter"/>
<path d="M400.66 311.27 L407.06 311.27 L403.86 316.17 Z" fill="none" stroke="#22a055" stroke-width="1.15" stroke-linejoin="miter"/>
<path d="M405.07 310.94 L411.47 310.94 L408.27 315.84 Z" fill="none" stroke="#22a055" stroke-width="1.15" stroke-linejoin="miter"/>
<path d="M409.48 310.68 L415.88 310.68 L412.68 315.58 Z" fill="none" stroke="#22a055" stroke-width="1.15" stroke-linejoin="miter"/>
<path d="M413.89 310.46 L420.29 310.46 L417.09 315.36 Z" fill="none" stroke="#22a055" stroke-width="1.15" stroke-linejoin="miter"/>
<path d="M418.3 310.29 L424.7 310.29 L421.5 315.19 Z" fill="none" stroke="#22a055" stroke-width="1.15" stroke-linejoin="miter"/>
<path d="M422.71 310.15 L429.11 310.15 L425.91 315.05 Z" fill="none" stroke="#22a055" stroke-width="1.15" stroke-linejoin="miter"/>
<path d="M427.12 310.05 L433.52 310.05 L430.32 314.95 Z" fill="none" stroke="#22a055" stroke-width="1.15" stroke-linejoin="miter"/>
<path d="M431.53 309.98 L437.93 309.98 L434.73 314.88 Z" fill="none" stroke="#22a055" stroke-width="1.15" stroke-linejoin="miter"/>
<path d="M435.94 309.93 L442.34 309.93 L439.14 314.83 Z" fill="none" stroke="#22a055" stroke-width="1.15" stroke-linejoin="miter"/>
<path d="M440.36 309.9 L446.76 309.9 L443.56 314.8 Z" fill="none" stroke="#22a055" stroke-width="1.15" stroke-linejoin="miter"/>
<path d="M444.77 309.86 L451.17 309.86 L447.97 314.76 Z" fill="none" stroke="#22a055" stroke-width="1.15" stroke-linejoin="miter"/>
<path d="M449.18 309.83 L455.58 309.83 L452.38 314.73 Z" fill="none" stroke="#22a055" stroke-width="1.15" stroke-linejoin="miter"/>
<path d="M453.59 309.8 L459.99 309.8 L456.79 314.7 Z" fill="none" stroke="#22a055" stroke-width="1.15" stroke-linejoin="miter"/>
<path d="M458 309.77 L464.4 309.77 L461.2 314.67 Z" fill="none" stroke="#22a055" stroke-width="1.15" stroke-linejoin="miter"/>
<path d="M462.41 309.75 L468.81 309.75 L465.61 314.65 Z" fill="none" stroke="#22a055" stroke-width="1.15" stroke-linejoin="miter"/>
<path d="M466.82 309.73 L473.22 309.73 L470.02 314.63 Z" fill="none" stroke="#22a055" stroke-width="1.15" stroke-linejoin="miter"/>
<path d="M471.23 309.71 L477.63 309.71 L474.43 314.61 Z" fill="none" stroke="#22a055" stroke-width="1.15" stroke-linejoin="miter"/>
<path d="M475.64 309.69 L482.04 309.69 L478.84 314.59 Z" fill="none" stroke="#22a055" stroke-width="1.15" stroke-linejoin="miter"/>
<path d="M480.06 309.67 L486.46 309.67 L483.26 314.57 Z" fill="none" stroke="#22a055" stroke-width="1.15" stroke-linejoin="miter"/>
<path d="M484.47 309.65 L490.87 309.65 L487.67 314.55 Z" fill="none" stroke="#22a055" stroke-width="1.15" stroke-linejoin="miter"/>
<path d="M488.88 309.64 L495.28 309.64 L492.08 314.54 Z" fill="none" stroke="#22a055" stroke-width="1.15" stroke-linejoin="miter"/>
<path d="M493.29 309.63 L499.69 309.63 L496.49 314.53 Z" fill="none" stroke="#22a055" stroke-width="1.15" stroke-linejoin="miter"/>
<path d="M497.7 309.62 L504.1 309.62 L500.9 314.52 Z" fill="none" stroke="#22a055" stroke-width="1.15" stroke-linejoin="miter"/>
<path d="M502.11 309.61 L508.51 309.61 L505.31 314.51 Z" fill="none" stroke="#22a055" stroke-width="1.15" stroke-linejoin="miter"/>
<path d="M506.52 309.61 L512.92 309.61 L509.72 314.51 Z" fill="none" stroke="#22a055" stroke-width="1.15" stroke-linejoin="miter"/>
<path d="M510.93 309.61 L517.33 309.61 L514.13 314.51 Z" fill="none" stroke="#22a055" stroke-width="1.15" stroke-linejoin="miter"/>
<path d="M515.34 309.61 L521.74 309.61 L518.54 314.51 Z" fill="none" stroke="#22a055" stroke-width="1.15" stroke-linejoin="miter"/>
<path d="M342.1 393.4 L342.98 390.01 L343.86 386.7 L344.75 383.47 L345.63 380.3 L346.51 377.21 L347.39 374.2 L348.28 371.26 L349.16 368.4 L350.04 365.6 L350.92 362.89 L351.8 360.25 L352.69 357.68 L353.57 355.19 L354.45 352.77 L355.33 350.42 L356.22 348.15 L357.1 345.96 L357.98 343.84 L358.86 341.79 L359.74 339.82 L360.63 337.92 L361.51 336.1 L362.39 334.35 L363.27 332.67 L364.16 331.07 L365.04 329.55 L365.92 328.1 L366.8 326.72 L367.68 325.42 L368.57 324.19 L369.45 323.04 L370.33 321.96 L371.21 320.95 L372.1 320.02 L372.98 319.17 L373.86 318.39 L374.74 317.68 L375.62 317.05 L376.51 316.49 L377.39 316 L378.27 315.59 L379.15 315.26 L380.04 315 L380.92 314.81 L381.8 314.7 L382.68 314.66 L383.56 314.66 L384.45 314.65 L385.33 314.65 L386.21 314.64 L387.09 314.64 L387.98 314.63 L388.86 314.63 L389.74 314.62 L390.62 314.62 L391.5 314.61 L392.39 314.61 L393.27 314.6 L394.15 314.6 L395.03 314.59 L395.92 314.59 L396.8 314.58 L397.68 314.58 L398.56 314.57 L399.44 314.57 L400.33 314.56 L401.21 314.56 L402.09 314.55 L402.97 314.55 L403.86 314.54 L404.74 314.54 L405.62 314.53 L406.5 314.53 L407.38 314.52 L408.27 314.51 L409.15 314.51 L410.03 314.5 L410.91 314.5 L411.8 314.49 L412.68 314.49 L413.56 314.48 L414.44 314.48 L415.32 314.47 L416.21 314.47 L417.09 314.46 L417.97 314.46 L418.85 314.45 L419.74 314.45 L420.62 314.44 L421.5 314.44 L422.38 314.43 L423.26 314.43 L424.15 314.42 L425.03 314.42 L425.91 314.41 L426.79 314.41 L427.68 314.4 L428.56 314.4 L429.44 314.39 L430.32 314.39 L431.2 314.38 L432.09 314.38 L432.97 314.37 L433.85 314.37 L434.73 314.36 L435.62 314.35 L436.5 314.35 L437.38 314.34 L438.26 314.34 L439.14 314.33 L440.03 314.33 L440.91 314.32 L441.79 314.32 L442.67 314.31 L443.56 314.31 L444.44 314.3 L445.32 314.3 L446.2 314.29 L447.08 314.29 L447.97 314.28 L448.85 314.28 L449.73 314.27 L450.61 314.27 L451.5 314.26 L452.38 314.26 L453.26 314.25 L454.14 314.25 L455.02 314.24 L455.91 314.24 L456.79 314.23 L457.67 314.23 L458.55 314.22 L459.44 314.22 L460.32 314.21 L461.2 314.2 L462.08 314.2 L462.96 314.19 L463.85 314.19 L464.73 314.18 L465.61 314.18 L466.49 314.17 L467.38 314.17 L468.26 314.16 L469.14 314.16 L470.02 314.15 L470.9 314.15 L471.79 314.14 L472.67 314.14 L473.55 314.13 L474.43 314.13 L475.32 314.12 L476.2 314.12 L477.08 314.11 L477.96 314.11 L478.84 314.1 L479.73 314.1 L480.61 314.09 L481.49 314.09 L482.37 314.08 L483.26 314.08 L484.14 314.07 L485.02 314.07 L485.9 314.06 L486.78 314.06 L487.67 314.05 L488.55 314.04 L489.43 314.04 L490.31 314.03 L491.2 314.03 L492.08 314.02 L492.96 314.02 L493.84 314.01 L494.72 314.01 L495.61 314 L496.49 314 L497.37 313.99 L498.25 313.99 L499.14 313.98 L500.02 313.98 L500.9 313.97 L501.78 313.97 L502.66 313.96 L503.55 313.96 L504.43 313.95 L505.31 313.95 L506.19 313.94 L507.08 313.94 L507.96 313.93 L508.84 313.93 L509.72 313.92 L510.6 313.92 L511.49 313.91 L512.37 313.91 L513.25 313.9 L514.13 313.9 L515.02 313.89 L515.9 313.88 L516.78 313.88 L517.66 313.87 L518.54 313.87" fill="none" stroke="#22a055" stroke-width="1.5" stroke-linejoin="round"/>
</g>
<rect x="31" y="8.7" width="198.7" height="146.8" fill="none" stroke="#000" stroke-width="2.3"/>
<path d="M31 155.5 v-2.7 M75.16 155.5 v-2.7 M119.31 155.5 v-2.7 M163.47 155.5 v-2.7 M207.62 155.5 v-2.7 M31 155.5 h2.7 M31 138.23 h2.7 M31 120.96 h2.7 M31 103.69 h2.7 M31 86.42 h2.7 M31 69.15 h2.7 M31 51.88 h2.7 M31 34.61 h2.7 M31 17.34 h2.7" stroke="#000" stroke-width="2.2" fill="none"/>
<text x="31.2" y="167.8" text-anchor="middle" class="tk">0</text>
<text x="75.36" y="167.8" text-anchor="middle" class="tk">5</text>
<text x="119.51" y="167.8" text-anchor="middle" class="tk">10</text>
<text x="163.67" y="167.8" text-anchor="middle" class="tk">15</text>
<text x="207.82" y="167.8" text-anchor="middle" class="tk">20</text>
<text x="27.9" y="159.4" text-anchor="end" class="tk">0.0</text>
<text x="27.9" y="142.13" text-anchor="end" class="tk">0.2</text>
<text x="27.9" y="124.86" text-anchor="end" class="tk">0.4</text>
<text x="27.9" y="107.59" text-anchor="end" class="tk">0.6</text>
<text x="27.9" y="90.32" text-anchor="end" class="tk">0.8</text>
<text x="27.9" y="73.05" text-anchor="end" class="tk">1.0</text>
<text x="27.9" y="55.78" text-anchor="end" class="tk">1.2</text>
<text x="27.9" y="38.51" text-anchor="end" class="tk">1.4</text>
<text x="27.9" y="21.24" text-anchor="end" class="tk">1.6</text>
<text x="130.65" y="180.1" text-anchor="middle" class="tk" style="font-size:11.5px">V<tspan font-size="7.6" dy="3.4">D</tspan><tspan dy="-3.4">(V)</tspan></text>
<text transform="translate(10.8 82.1) rotate(-90)" text-anchor="middle" class="tk" style="font-size:11px">I<tspan font-size="7.37" dy="3.2">D</tspan><tspan dy="-3.2">(μA)</tspan></text>
<rect x="342.1" y="8.7" width="198.5" height="146.8" fill="none" stroke="#000" stroke-width="2.3"/>
<path d="M342.1 155.5 v-2.7 M386.21 155.5 v-2.7 M430.32 155.5 v-2.7 M474.43 155.5 v-2.7 M518.54 155.5 v-2.7 M342.1 155.5 h2.7 M342.1 140.05 h2.7 M342.1 124.59 h2.7 M342.1 109.14 h2.7 M342.1 93.69 h2.7 M342.1 78.24 h2.7 M342.1 62.78 h2.7 M342.1 47.33 h2.7 M342.1 31.88 h2.7 M342.1 16.43 h2.7" stroke="#000" stroke-width="2.2" fill="none"/>
<text x="342.3" y="167.8" text-anchor="middle" class="tk">0</text>
<text x="386.41" y="167.8" text-anchor="middle" class="tk">5</text>
<text x="430.52" y="167.8" text-anchor="middle" class="tk">10</text>
<text x="474.63" y="167.8" text-anchor="middle" class="tk">15</text>
<text x="518.74" y="167.8" text-anchor="middle" class="tk">20</text>
<text x="339" y="159.4" text-anchor="end" class="tk">0.0</text>
<text x="339" y="143.95" text-anchor="end" class="tk">0.2</text>
<text x="339" y="128.49" text-anchor="end" class="tk">0.4</text>
<text x="339" y="113.04" text-anchor="end" class="tk">0.6</text>
<text x="339" y="97.59" text-anchor="end" class="tk">0.8</text>
<text x="339" y="82.14" text-anchor="end" class="tk">1.0</text>
<text x="339" y="66.68" text-anchor="end" class="tk">1.2</text>
<text x="339" y="51.23" text-anchor="end" class="tk">1.4</text>
<text x="339" y="35.78" text-anchor="end" class="tk">1.6</text>
<text x="339" y="20.33" text-anchor="end" class="tk">1.8</text>
<text x="441.65" y="180.1" text-anchor="middle" class="tk" style="font-size:11.5px">V<tspan font-size="7.6" dy="3.4">D</tspan><tspan dy="-3.4">(V)</tspan></text>
<text transform="translate(321.9 82.1) rotate(-90)" text-anchor="middle" class="tk" style="font-size:11px">I<tspan font-size="7.37" dy="3.2">D</tspan><tspan dy="-3.2">(μA)</tspan></text>
<rect x="30.8" y="245.6" width="198.8" height="147.8" fill="none" stroke="#000" stroke-width="2.3"/>
<path d="M30.8 393.4 v-2.7 M74.98 393.4 v-2.7 M119.16 393.4 v-2.7 M163.33 393.4 v-2.7 M207.51 393.4 v-2.7 M30.8 393.4 h2.7 M30.8 366.53 h2.7 M30.8 339.65 h2.7 M30.8 312.78 h2.7 M30.8 285.91 h2.7 M30.8 259.04 h2.7" stroke="#000" stroke-width="2.2" fill="none"/>
<path d="M52.89 393.4 v-1.95 M97.07 393.4 v-1.95 M141.24 393.4 v-1.95 M185.42 393.4 v-1.95" stroke="#000" stroke-width="1.7" fill="none"/>
<text x="31" y="405.7" text-anchor="middle" class="tk">0</text>
<text x="75.18" y="405.7" text-anchor="middle" class="tk">5</text>
<text x="119.36" y="405.7" text-anchor="middle" class="tk">10</text>
<text x="163.53" y="405.7" text-anchor="middle" class="tk">15</text>
<text x="207.71" y="405.7" text-anchor="middle" class="tk">20</text>
<text x="27.7" y="397.3" text-anchor="end" class="tk">0.0</text>
<text x="27.7" y="370.43" text-anchor="end" class="tk">0.2</text>
<text x="27.7" y="343.55" text-anchor="end" class="tk">0.4</text>
<text x="27.7" y="316.68" text-anchor="end" class="tk">0.6</text>
<text x="27.7" y="289.81" text-anchor="end" class="tk">0.8</text>
<text x="27.7" y="262.94" text-anchor="end" class="tk">1.0</text>
<text x="130.5" y="418" text-anchor="middle" class="tk" style="font-size:11.5px">V<tspan font-size="7.6" dy="3.4">D</tspan><tspan dy="-3.4">(V)</tspan></text>
<text transform="translate(10.3 320.3) rotate(-90)" text-anchor="middle" class="tk" style="font-size:12px">I<tspan font-size="8.04" dy="3.2">D</tspan><tspan dy="-3.2">(μA)</tspan></text>
<rect x="342.1" y="245.7" width="198.5" height="147.7" fill="none" stroke="#000" stroke-width="2.3"/>
<path d="M342.1 393.4 v-2.7 M386.21 393.4 v-2.7 M430.32 393.4 v-2.7 M474.43 393.4 v-2.7 M518.54 393.4 v-2.7 M342.1 393.4 h2.7 M342.1 370.68 h2.7 M342.1 347.95 h2.7 M342.1 325.23 h2.7 M342.1 302.51 h2.7 M342.1 279.78 h2.7 M342.1 257.06 h2.7" stroke="#000" stroke-width="2.2" fill="none"/>
<path d="M364.16 393.4 v-1.95 M408.27 393.4 v-1.95 M452.38 393.4 v-1.95 M496.49 393.4 v-1.95" stroke="#000" stroke-width="1.7" fill="none"/>
<text x="342.3" y="405.7" text-anchor="middle" class="tk">0</text>
<text x="386.41" y="405.7" text-anchor="middle" class="tk">5</text>
<text x="430.52" y="405.7" text-anchor="middle" class="tk">10</text>
<text x="474.63" y="405.7" text-anchor="middle" class="tk">15</text>
<text x="518.74" y="405.7" text-anchor="middle" class="tk">20</text>
<text x="339" y="397.3" text-anchor="end" class="tk">0.0</text>
<text x="339" y="374.58" text-anchor="end" class="tk">0.2</text>
<text x="339" y="351.85" text-anchor="end" class="tk">0.4</text>
<text x="339" y="329.13" text-anchor="end" class="tk">0.6</text>
<text x="339" y="306.41" text-anchor="end" class="tk">0.8</text>
<text x="339" y="283.68" text-anchor="end" class="tk">1.0</text>
<text x="339" y="260.96" text-anchor="end" class="tk">1.2</text>
<text x="441.65" y="418" text-anchor="middle" class="tk" style="font-size:11.5px">V<tspan font-size="7.6" dy="3.4">D</tspan><tspan dy="-3.4">(V)</tspan></text>
<text transform="translate(321.6 320.35) rotate(-90)" text-anchor="middle" class="tk" style="font-size:12px">I<tspan font-size="8.04" dy="3.2">D</tspan><tspan dy="-3.2">(μA)</tspan></text>
<text x="170.4" y="97.8" font-size="12" class="lg"><tspan font-style="italic">L</tspan><tspan font-style="italic" font-size="7.92" dy="3.24">offset</tspan><tspan dy="-3.24"> (μm)</tspan></text>
<circle cx="182.7" cy="106.4" r="3.5" fill="none" stroke="#424242" stroke-width="1.6"/>
<text x="208.1" y="110.3" text-anchor="middle" font-size="12" class="lg">0</text>
<rect x="179.7" y="114.7" width="6" height="6" fill="none" stroke="#f53232" stroke-width="1.6"/>
<text x="208.1" y="121.6" text-anchor="middle" font-size="12" class="lg">30</text>
<path d="M178.8 131.61 L186.6 131.61 L182.7 124.91 Z" fill="none" stroke="#1766e6" stroke-width="1.6" stroke-linejoin="miter"/>
<text x="208.1" y="133.1" text-anchor="middle" font-size="12" class="lg">40</text>
<path d="M178.8 138.19 L186.6 138.19 L182.7 144.89 Z" fill="none" stroke="#22a055" stroke-width="1.6" stroke-linejoin="miter"/>
<text x="208.1" y="144.5" text-anchor="middle" font-size="12" class="lg">50</text>
<text x="481.2" y="98.2" font-size="12" class="lg"><tspan font-style="italic">L</tspan><tspan font-style="italic" font-size="7.92" dy="3.24">offset</tspan><tspan dy="-3.24"> (μm)</tspan></text>
<circle cx="493.9" cy="106.3" r="3.5" fill="none" stroke="#424242" stroke-width="1.6"/>
<text x="519.5" y="110.2" text-anchor="middle" font-size="12" class="lg">10</text>
<rect x="490.9" y="114.8" width="6" height="6" fill="none" stroke="#f53232" stroke-width="1.6"/>
<text x="519.5" y="121.7" text-anchor="middle" font-size="12" class="lg">15</text>
<path d="M490 131.71 L497.8 131.71 L493.9 125.01 Z" fill="none" stroke="#1766e6" stroke-width="1.6" stroke-linejoin="miter"/>
<text x="519.5" y="133.2" text-anchor="middle" font-size="12" class="lg">20</text>
<path d="M490 138.29 L497.8 138.29 L493.9 144.99 Z" fill="none" stroke="#22a055" stroke-width="1.6" stroke-linejoin="miter"/>
<text x="519.5" y="144.6" text-anchor="middle" font-size="12" class="lg">50</text>
<text x="480.8" y="335.5" font-size="12" class="lg"><tspan font-style="italic">L</tspan><tspan font-style="italic" font-size="7.92" dy="3.24">offset</tspan><tspan dy="-3.24"> (μm)</tspan></text>
<circle cx="493.9" cy="343.9" r="3.5" fill="none" stroke="#424242" stroke-width="1.6"/>
<text x="519.8" y="347.8" text-anchor="middle" font-size="12" class="lg">10</text>
<rect x="490.9" y="352.3" width="6" height="6" fill="none" stroke="#f53232" stroke-width="1.6"/>
<text x="519.8" y="359.2" text-anchor="middle" font-size="12" class="lg">20</text>
<path d="M490 369.21 L497.8 369.21 L493.9 362.51 Z" fill="none" stroke="#1766e6" stroke-width="1.6" stroke-linejoin="miter"/>
<text x="519.8" y="370.7" text-anchor="middle" font-size="12" class="lg">25</text>
<path d="M490 375.79 L497.8 375.79 L493.9 382.49 Z" fill="none" stroke="#22a055" stroke-width="1.6" stroke-linejoin="miter"/>
<text x="519.8" y="382.1" text-anchor="middle" font-size="12" class="lg">35</text>
<text x="156.3" y="277.2" font-size="9.8" class="lg"><tspan font-style="italic">L</tspan><tspan font-style="italic" font-size="6.47" dy="2.65">offset</tspan><tspan dy="-2.65"> (μm)</tspan></text>
<g transform="translate(148.1 285.8) scale(0.93) translate(-148.1 -285.8)"><circle cx="148.1" cy="285.8" r="3.5" fill="none" stroke="#424242" stroke-width="1.6"/></g>
<text x="169.1" y="288.9" text-anchor="middle" font-size="9.2" class="lg">5</text>
<g transform="translate(185 285.8) scale(0.93) translate(-185 -285.8)"><rect x="182" y="282.8" width="6" height="6" fill="none" stroke="#f53232" stroke-width="1.6"/></g>
<text x="205.4" y="288.9" text-anchor="middle" font-size="9.2" class="lg">15</text>
<g transform="translate(148.1 295.6) scale(0.93) translate(-148.1 -295.6)"><path d="M144.2 298.01 L152 298.01 L148.1 291.31 Z" fill="none" stroke="#1766e6" stroke-width="1.6" stroke-linejoin="miter"/></g>
<text x="169.1" y="298.7" text-anchor="middle" font-size="9.2" class="lg">35</text>
<g transform="translate(185 295.6) scale(0.93) translate(-185 -295.6)"><path d="M181.1 293.19 L188.9 293.19 L185 299.89 Z" fill="none" stroke="#22a055" stroke-width="1.6" stroke-linejoin="miter"/></g>
<text x="205.4" y="298.7" text-anchor="middle" font-size="9.2" class="lg">40</text>
<g transform="translate(148.1 305) scale(0.93) translate(-148.1 -305)"><path d="M143.8 305 L148.1 300.7 L152.4 305 L148.1 309.3 Z" fill="none" stroke="#a566e2" stroke-width="1.6"/></g>
<text x="169.1" y="308.1" text-anchor="middle" font-size="9.2" class="lg">45</text>
<text x="133.6" y="211.8" text-anchor="middle" class="cap">(a)</text>
<text x="444.9" y="211.8" text-anchor="middle" class="cap">(<tspan font-weight="bold">b</tspan>)</text>
<text x="133.6" y="449.2" text-anchor="middle" class="cap">(c)</text>
<text x="444.5" y="449.2" text-anchor="middle" class="cap">(d)</text>
</svg></body></html>
